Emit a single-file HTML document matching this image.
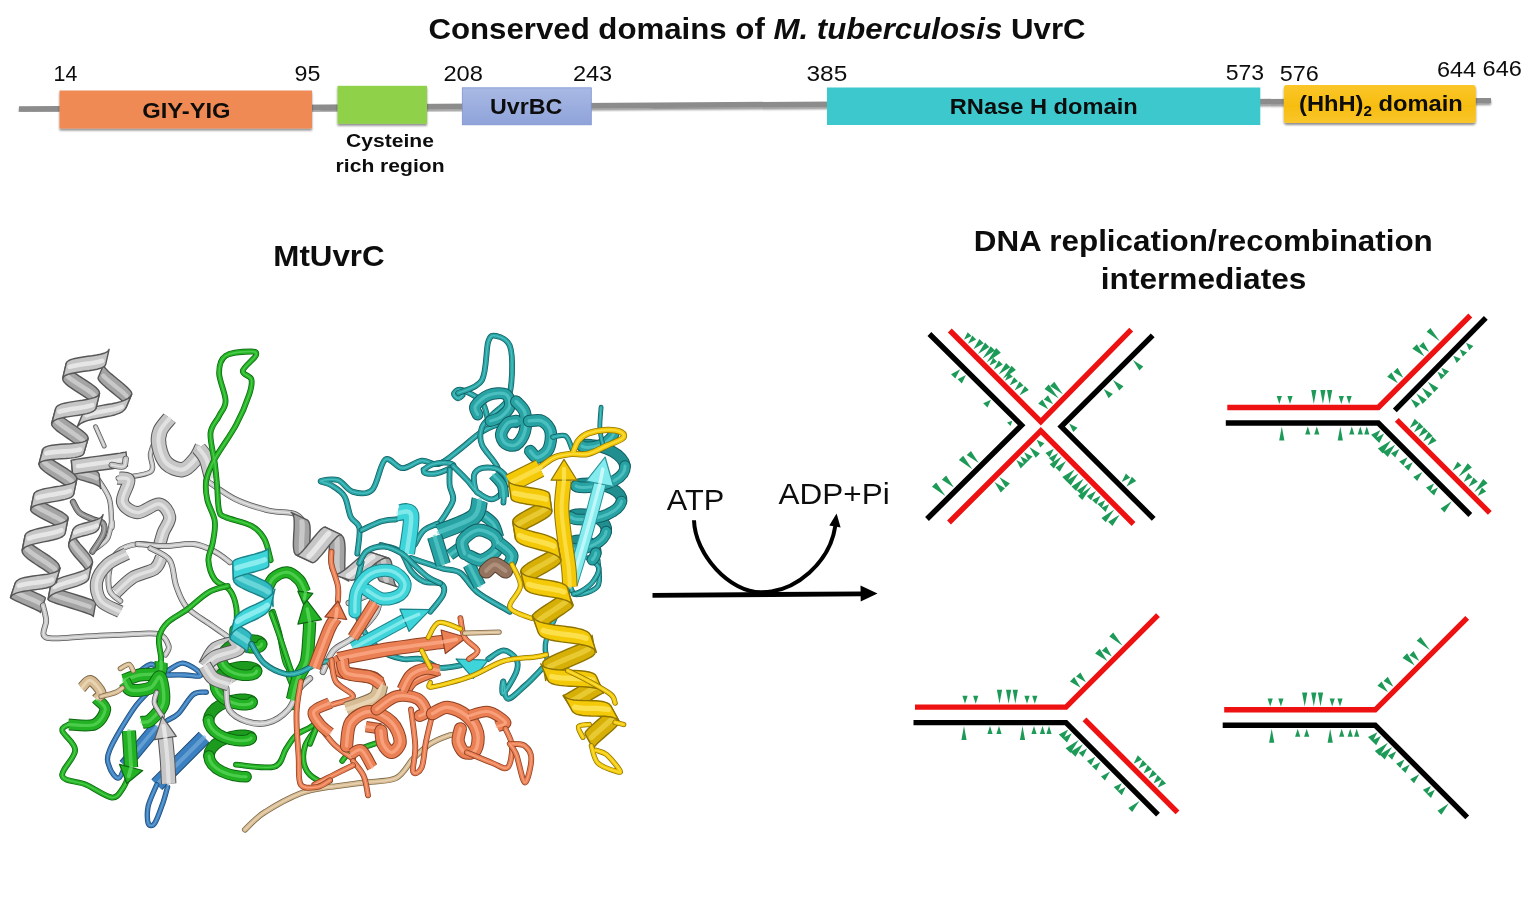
<!DOCTYPE html>
<html><head><meta charset="utf-8"><title>MtUvrC graphical abstract</title>
<style>
html,body{margin:0;padding:0;background:#fff;}
body{width:1536px;height:918px;overflow:hidden;font-family:"Liberation Sans",sans-serif;}
svg{display:block;}
</style></head><body>
<svg width="1536" height="918" viewBox="0 0 1536 918">
<rect width="1536" height="918" fill="#fff"/>
<defs><filter id="sh" x="-5%" y="-20%" width="110%" height="150%"><feGaussianBlur in="SourceAlpha" stdDeviation="1.2"/><feOffset dy="1.5" result="o"/><feComponentTransfer><feFuncA type="linear" slope="0.45"/></feComponentTransfer><feMerge><feMergeNode/><feMergeNode in="SourceGraphic"/></feMerge></filter><linearGradient id="gy" x1="0" y1="0" x2="0" y2="1"><stop offset="0" stop-color="#fbc62a"/><stop offset="0.55" stop-color="#f7bd10"/><stop offset="1" stop-color="#f9c62c"/></linearGradient><linearGradient id="gb" x1="0" y1="0" x2="0" y2="1"><stop offset="0" stop-color="#a9b9e4"/><stop offset="1" stop-color="#8fa3da"/></linearGradient></defs>
<g filter="url(#sh)"><path d="M19 109 L1491 100.3" stroke="#8c8c8c" stroke-width="5.5" fill="none"/></g>
<rect x="59.5" y="90.5" width="252.5" height="38" fill="#f08a55" filter="url(#sh)"/>
<rect x="337.5" y="85.8" width="89.5" height="38" fill="#8fd14a" filter="url(#sh)"/>
<rect x="462.3" y="87.8" width="129" height="37" fill="url(#gb)" stroke="#7f93cf" stroke-width="0.8"/>
<rect x="827" y="87.5" width="433.3" height="37.5" fill="#3cc8cc"/>
<rect x="1283.8" y="85" width="192" height="38" rx="3" fill="url(#gy)" filter="url(#sh)"/>
<g font-family="'Liberation Sans', sans-serif" fill="#0d0d0d" opacity="0.999"><text transform="translate(428.4 39) scale(1.0337 1)" font-size="30.2" xml:space="preserve"><tspan font-weight="bold">Conserved&#160;domains&#160;of&#160;</tspan><tspan font-weight="bold" font-style="italic">M. tuberculosis</tspan><tspan font-weight="bold">&#160;UvrC</tspan></text><text transform="translate(53.6 81) scale(0.9466 1)" font-size="22.6" xml:space="preserve"><tspan>14</tspan></text><text transform="translate(294.5 81) scale(1.0274 1)" font-size="22.6" xml:space="preserve"><tspan>95</tspan></text><text transform="translate(443.4 81.3) scale(1.0479 1)" font-size="22.6" xml:space="preserve"><tspan>208</tspan></text><text transform="translate(572.9 81.3) scale(1.0423 1)" font-size="22.6" xml:space="preserve"><tspan>243</tspan></text><text transform="translate(806.5 81.2) scale(1.0804 1)" font-size="22.6" xml:space="preserve"><tspan>385</tspan></text><text transform="translate(1225.7 80.3) scale(1.0190 1)" font-size="22.6" xml:space="preserve"><tspan>573</tspan></text><text transform="translate(1279.8 81) scale(1.0357 1)" font-size="22.6" xml:space="preserve"><tspan>576</tspan></text><text transform="translate(1436.9 77.2) scale(1.0385 1)" font-size="22.6" xml:space="preserve"><tspan>644</tspan></text><text transform="translate(1482.6 75.6) scale(1.0423 1)" font-size="22.6" xml:space="preserve"><tspan>646</tspan></text><text transform="translate(142.2 117.6) scale(1.1037 1)" font-size="21.5" xml:space="preserve"><tspan font-weight="bold">GIY-YIG</tspan></text><text transform="translate(490 113.7) scale(1.0563 1)" font-size="22" xml:space="preserve"><tspan font-weight="bold">UvrBC</tspan></text><text transform="translate(949.8 113.7) scale(1.0753 1)" font-size="22" xml:space="preserve"><tspan font-weight="bold">RNase H domain</tspan></text><text transform="translate(1299 111.1) scale(1.0782 1)" font-size="22" xml:space="preserve"><tspan font-weight="bold">(HhH)</tspan><tspan font-weight="bold" font-size="14.1" dy="5">2</tspan><tspan font-weight="bold" dy="-5">&#160;domain</tspan></text><text transform="translate(346 146.9) scale(1.1530 1)" font-size="18.3" xml:space="preserve"><tspan font-weight="bold">Cysteine</tspan></text><text transform="translate(335.6 171.9) scale(1.1525 1)" font-size="18.3" xml:space="preserve"><tspan font-weight="bold">rich region</tspan></text><text transform="translate(273.3 266) scale(1.0447 1)" font-size="30" xml:space="preserve"><tspan font-weight="bold">MtUvrC</tspan></text><text transform="translate(973.8 251.4) scale(1.0821 1)" font-size="29" xml:space="preserve"><tspan font-weight="bold">DNA replication/recombination</tspan></text><text transform="translate(1100.8 288.7) scale(1.0901 1)" font-size="29" xml:space="preserve"><tspan font-weight="bold">intermediates</tspan></text><text transform="translate(666.8 509.7) scale(1.0325 1)" font-size="29.8" xml:space="preserve"><tspan>ATP</tspan></text><text transform="translate(778.6 504.3) scale(1.0422 1)" font-size="30.2" xml:space="preserve"><tspan>ADP+Pi</tspan></text></g>
<path d="M652.5 595.4 L862 593.8" stroke="#000" stroke-width="4.8" fill="none"/>
<path d="M860.5 585.6 L877.5 593.6 L860.7 601.6Z" fill="#000"/>
<path d="M694 520.2 C695 555 730 592.3 761 592.3 C796 592.3 830 562 835.3 526" stroke="#000" stroke-width="4" fill="none"/>
<path d="M829.3 525.5 L836.6 513.5 L840.6 527.5Z" fill="#000"/>
<path d="M929.4 334 L1021.6 425.2 L927 519" fill="none" stroke="#000" stroke-width="5.4" stroke-linejoin="miter" stroke-linecap="butt"/><path d="M1152.7 335.4 L1061.2 426.6 L1153.7 518.8" fill="none" stroke="#000" stroke-width="5.4" stroke-linejoin="miter" stroke-linecap="butt"/><path d="M949.8 330.5 L1040.8 421.7 L1131.2 329.6" fill="none" stroke="#ee1111" stroke-width="5.4" stroke-linejoin="miter" stroke-linecap="butt"/><path d="M949 522.5 L1040.8 430.8 L1133.5 524" fill="none" stroke="#ee1111" stroke-width="5.4" stroke-linejoin="miter" stroke-linecap="butt"/>
<path d="M963.9 339.8L971.5 336.1L967.7 332.3ZM967.9 343.8L976.2 339.4L972.3 335.5ZM973.4 349.3L983.7 343.3L979.4 339.1ZM978 353.9L989.3 346.9L985.1 342.6ZM982.6 358.5L995 350.4L990.7 346.2ZM986.5 362.4L1000.8 352.7L996.2 348.1ZM989.4 365.4L997 361.7L993.2 357.8ZM993.7 369.7L1002.7 364.5L998.8 360.6ZM998.6 374.6L1010.3 367.2L1006.1 362.9ZM1002.8 378.8L1015.9 370L1011.6 365.7ZM1004.8 380.8L1012.8 376.8L1008.9 372.9ZM1009.6 385.6L1017.9 381.2L1014.1 377.3ZM1014.5 390.5L1023.5 385.4L1019.6 381.5ZM1019.4 395.5L1028.8 390L1024.9 386.1ZM960.2 369.3L955.3 378.5L951 374.3ZM966 375L961.8 383.5L957.6 379.3ZM991 399.7L987.5 407.5L983.2 403.3ZM1012.3 420.8L1010.6 426.1L1007 422.6ZM1048.2 409.3L1042.4 399.5L1038.2 403.8ZM1053.1 404.3L1048 395.2L1043.8 399.5ZM1058.7 398.6L1048.7 384.6L1044.5 388.9ZM1062.9 394.3L1054.3 381.7L1050.1 386ZM1069.1 423.6L1077.5 427.8L1073.3 432.1ZM1103.7 389.1L1112.9 394L1108.6 398.3ZM1112.9 379.9L1123.5 386.3L1119.2 390.5ZM1132.9 360L1143.3 366.5L1139.4 370.4ZM978.7 462.9L966.7 455.1L971 450.9ZM972.3 469.3L958.9 460L963.2 455.8ZM953.9 487.6L941.9 479.7L946.1 475.5ZM945.4 496L932 486.8L936.2 482.5ZM1036.6 439.8L1040.2 447.6L1044.4 443.3ZM1029.3 447.1L1035.7 457.7L1039.9 453.4ZM1024.1 452.3L1028.3 460.8L1032.6 456.5ZM1020.2 456.2L1024.4 464.7L1028.7 460.4ZM1016.3 460.1L1020.6 468.5L1024.8 464.3ZM999.3 477L1005.7 487.6L1009.9 483.4ZM994.4 482L1000.7 492.6L1005 488.3ZM1053.9 448.8L1049.6 457.3L1045.4 453ZM1058.1 453L1053.2 462.2L1048.9 458ZM1061.7 456.6L1053.9 468.6L1049.6 464.3ZM1066.1 461.1L1059.7 471.7L1055.5 467.4ZM1074.6 469.6L1066.9 481.7L1062.3 477.1ZM1078.4 473.5L1070.8 485.6L1066.2 481ZM1083.7 478.8L1076.1 491L1071.5 486.4ZM1088.2 483.3L1081.1 494.6L1076.9 490.4ZM1091.5 486.6L1082.3 500L1078 495.7ZM1096 491.1L1091 500.3L1086.8 496ZM1100.6 495.7L1096.3 504.2L1092.1 500ZM1105.2 500.3L1101.6 508.1L1097.4 503.9ZM1109.1 504.3L1105.6 512.1L1101.3 507.8ZM1114.3 509.5L1105.7 522.2L1101.5 517.9ZM1119.6 514.8L1112.5 526.1L1108.2 521.8ZM1121.7 482.1L1130.2 477.8L1125.9 473.6ZM1126.3 486.7L1136.2 481L1131.9 476.8Z" fill="#1e9a58"/>
<path d="M1227.3 407.5 L1378.3 407.5 L1470.3 315.5" fill="none" stroke="#ee1111" stroke-width="5.4" stroke-linejoin="miter" stroke-linecap="butt"/><path d="M1225.8 423 L1378.3 423 L1470.3 515" fill="none" stroke="#000" stroke-width="5.4" stroke-linejoin="miter" stroke-linecap="butt"/><path d="M1396.8 419.8 L1489.8 512.8" fill="none" stroke="#ee1111" stroke-width="5.4" stroke-linejoin="miter" stroke-linecap="butt"/><path d="M1394.8 410.3 L1485.8 317.8" fill="none" stroke="#000" stroke-width="5.4" stroke-linejoin="miter" stroke-linecap="butt"/>
<path d="M1279.3 404.1L1281.9 396.1L1276.7 396.1ZM1290 404.1L1292.6 396.1L1287.4 396.1ZM1313.8 404.1L1316.4 390.1L1311.2 390.1ZM1322.9 404.1L1325.5 390.1L1320.3 390.1ZM1329.6 404.1L1332.2 390.1L1327 390.1ZM1341.3 404.1L1343.9 396.1L1338.7 396.1ZM1349.1 404.1L1351.7 396.1L1346.5 396.1ZM1281.8 426.4L1284.4 440.4L1279.2 440.4ZM1307.8 426.4L1310.4 434.4L1305.2 434.4ZM1316.8 426.4L1319.4 434.4L1314.2 434.4ZM1340.3 426.4L1342.9 440.4L1337.7 440.4ZM1351.8 426.4L1354.4 434.4L1349.2 434.4ZM1360.3 426.4L1362.9 434.4L1357.7 434.4ZM1366.8 426.4L1369.4 434.4L1364.2 434.4ZM1397.8 383.2L1391.5 372.6L1387.2 376.8ZM1403.3 377.7L1397.6 367.8L1393.4 372.1ZM1424.5 356.4L1416.9 344.2L1412.3 348.8ZM1429.1 351.9L1423.4 342L1419.2 346.3ZM1439.8 341.2L1430.4 327.9L1426.6 331.8ZM1380.5 430L1375.7 439.4L1371.1 434.8ZM1384.1 433.6L1379.3 443L1374.7 438.4ZM1391 440.5L1382.8 453.5L1377.9 448.6ZM1395.2 444.7L1387.8 457.1L1382.8 452.1ZM1399.4 449L1395.2 457.4L1391 453.2ZM1407.6 457.2L1403.4 465.6L1399.2 461.4ZM1412.8 462.3L1408.6 470.8L1404.3 466.6ZM1422.4 471.9L1417.2 480.9L1413.3 477ZM1434.1 483.6L1430.2 491.7L1426 487.5ZM1438 487.5L1434.1 495.6L1429.8 491.4ZM1451.8 501.3L1444.5 512.4L1440.6 508.5ZM1410.8 398.9L1420.1 403.7L1415.9 408ZM1416.2 393.4L1426.8 399.7L1422.6 404ZM1421.8 387.7L1432.4 394L1428.2 398.3ZM1427.7 381.7L1438.4 388L1434.2 392.2ZM1437.4 371.8L1445.2 375.3L1441 379.6ZM1441.3 367.8L1449.1 371.3L1444.9 375.6ZM1453.3 355.7L1460.8 358.8L1456.6 363.1ZM1459.6 349.2L1467.1 352.4L1462.9 356.6ZM1466 342.8L1473.4 345.9L1469.2 350.2ZM1409.7 427.9L1418.9 423L1414.7 418.7ZM1414 432.2L1423.5 426.9L1419.3 422.6ZM1418.6 436.8L1428.1 431.5L1423.9 427.2ZM1423.2 441.4L1432.7 436.1L1428.5 431.8ZM1427.4 445.6L1436.6 440.7L1432.4 436.4ZM1452.5 470.7L1461.5 465.6L1457.6 461.7ZM1458.5 476.7L1471.9 467.5L1467.7 463.2ZM1463.7 481.9L1472.5 477.3L1468.3 473ZM1468.6 486.8L1477.8 481.8L1473.5 477.6ZM1474.2 492.3L1487.6 483.2L1483.3 478.9ZM1477.7 495.9L1486.2 491.6L1481.9 487.4Z" fill="#1e9a58"/>
<path d="M915 707.1 L1066 707.1 L1158 615.1" fill="none" stroke="#ee1111" stroke-width="5.4" stroke-linejoin="miter" stroke-linecap="butt"/><path d="M913.5 722.6 L1066 722.6 L1158 814.6" fill="none" stroke="#000" stroke-width="5.4" stroke-linejoin="miter" stroke-linecap="butt"/><path d="M1084.5 719.4 L1177.5 812.4" fill="none" stroke="#ee1111" stroke-width="5.4" stroke-linejoin="miter" stroke-linecap="butt"/>
<path d="M965 703.7L967.6 695.7L962.4 695.7ZM975.7 703.7L978.3 695.7L973.1 695.7ZM999.5 703.7L1002.1 689.7L996.9 689.7ZM1008.6 703.7L1011.2 689.7L1006 689.7ZM1015.3 703.7L1017.9 689.7L1012.7 689.7ZM1027 703.7L1029.6 695.7L1024.4 695.7ZM1034.8 703.7L1037.4 695.7L1032.2 695.7ZM964 726L966.6 740L961.4 740ZM990 726L992.6 734L987.4 734ZM999 726L1001.6 734L996.4 734ZM1022.5 726L1025.1 740L1019.9 740ZM1034 726L1036.6 734L1031.4 734ZM1042.5 726L1045.1 734L1039.9 734ZM1049 726L1051.6 734L1046.4 734ZM1080.6 687.7L1074.2 677.1L1070 681.4ZM1086 682.3L1080.4 672.4L1076.1 676.6ZM1107.3 661L1099.7 648.8L1095.1 653.4ZM1111.8 656.5L1106.2 646.6L1101.9 650.8ZM1122.6 645.7L1113.2 632.5L1109.3 636.4ZM1068.2 729.6L1063.4 739L1058.8 734.4ZM1071.8 733.2L1067 742.6L1062.4 738ZM1078.7 740.1L1070.5 753.1L1065.6 748.2ZM1082.9 744.3L1075.5 756.7L1070.5 751.7ZM1087.1 748.6L1082.9 757L1078.7 752.8ZM1095.3 756.8L1091.1 765.2L1086.9 761ZM1100.5 761.9L1096.3 770.4L1092 766.2ZM1110.1 771.5L1104.9 780.5L1101 776.6ZM1121.8 783.2L1117.9 791.3L1113.7 787.1ZM1125.7 787.1L1121.8 795.2L1117.5 791ZM1139.5 800.9L1132.2 812L1128.3 808.1ZM1133.6 763.7L1142.1 759.4L1137.8 755.2ZM1138.5 768.6L1147 764.4L1142.8 760.1ZM1143.5 773.6L1152 769.3L1147.7 765.1ZM1148.4 778.5L1156.9 774.3L1152.7 770ZM1153.4 783.5L1161.9 779.2L1157.6 775ZM1157.6 787.7L1166.1 783.5L1161.9 779.2Z" fill="#1e9a58"/>
<path d="M1224.2 709.8 L1375.2 709.8 L1467.2 617.8" fill="none" stroke="#ee1111" stroke-width="5.4" stroke-linejoin="miter" stroke-linecap="butt"/><path d="M1222.7 725.3 L1375.2 725.3 L1467.2 817.3" fill="none" stroke="#000" stroke-width="5.4" stroke-linejoin="miter" stroke-linecap="butt"/>
<path d="M1270.2 706.4L1272.8 698.4L1267.6 698.4ZM1280.9 706.4L1283.5 698.4L1278.3 698.4ZM1304.7 706.4L1307.3 692.4L1302.1 692.4ZM1313.8 706.4L1316.4 692.4L1311.2 692.4ZM1320.5 706.4L1323.1 692.4L1317.9 692.4ZM1332.2 706.4L1334.8 698.4L1329.6 698.4ZM1340 706.4L1342.6 698.4L1337.4 698.4ZM1271.7 728.7L1274.3 742.7L1269.1 742.7ZM1297.7 728.7L1300.3 736.7L1295.1 736.7ZM1306.7 728.7L1309.3 736.7L1304.1 736.7ZM1330.2 728.7L1332.8 742.7L1327.6 742.7ZM1341.7 728.7L1344.3 736.7L1339.1 736.7ZM1350.2 728.7L1352.8 736.7L1347.6 736.7ZM1356.7 728.7L1359.3 736.7L1354.1 736.7ZM1388 692.2L1381.6 681.6L1377.4 685.8ZM1393.4 686.7L1387.8 676.8L1383.5 681.1ZM1414.7 665.5L1407.1 653.3L1402.5 657.9ZM1419.3 660.9L1413.6 651L1409.4 655.3ZM1430 650.2L1420.6 636.9L1416.7 640.8ZM1377.4 732.3L1372.6 741.7L1368 737.1ZM1381 735.9L1376.2 745.3L1371.6 740.7ZM1387.9 742.8L1379.7 755.8L1374.8 750.9ZM1392.1 747L1384.7 759.4L1379.7 754.4ZM1396.3 751.3L1392.1 759.7L1387.9 755.5ZM1404.5 759.5L1400.3 767.9L1396.1 763.7ZM1409.7 764.6L1405.5 773.1L1401.2 768.9ZM1419.3 774.2L1414.1 783.2L1410.2 779.3ZM1431 785.9L1427.1 794L1422.9 789.8ZM1434.9 789.8L1431 797.9L1426.7 793.7ZM1448.7 803.6L1441.4 814.7L1437.5 810.8Z" fill="#1e9a58"/>
<g fill="none" stroke-linejoin="round">
<path d="M95.6 426.7L104.2 446" stroke="#565656" stroke-width="4.8" stroke-linecap="round"/>
<path d="M95.6 426.7L104.2 446" stroke="#c6c6c6" stroke-width="3.3" stroke-linecap="round"/>
<path d="M95.6 426.7L104.2 446" stroke="#f4f4f4" stroke-width="1.1" stroke-linecap="round" stroke-opacity="0.6"/>
<path d="M98.8 480.4C100.6 483.6 107.4 492 109.6 499.7C111.7 507.5 111.4 523.4 111.7 527C112.1 530.6 112.4 519.5 111.7 521.5C111 523.4 110.3 534 107.4 538.7C104.6 543.3 96.7 547.6 94.5 549.4" stroke="#565656" stroke-width="5.3" stroke-linecap="round"/>
<path d="M98.8 480.4C100.6 483.6 107.4 492 109.6 499.7C111.7 507.5 111.4 523.4 111.7 527C112.1 530.6 112.4 519.5 111.7 521.5C111 523.4 110.3 534 107.4 538.7C104.6 543.3 96.7 547.6 94.5 549.4" stroke="#c6c6c6" stroke-width="3.8" stroke-linecap="round"/>
<path d="M98.8 480.4C100.6 483.6 107.4 492 109.6 499.7C111.7 507.5 111.4 523.4 111.7 527C112.1 530.6 112.4 519.5 111.7 521.5C111 523.4 110.3 534 107.4 538.7C104.6 543.3 96.7 547.6 94.5 549.4" stroke="#f4f4f4" stroke-width="1.2" stroke-linecap="round" stroke-opacity="0.6"/>
<path d="M73 501.9C74.1 503.7 76.3 509.8 79.5 512.6C82.7 515.5 88.4 517.3 92.4 519.1C96.3 520.9 101.3 520.8 103.1 523.4C104.9 525.9 104.9 529.7 103.1 534.4C101.3 539.1 94.2 548.7 92.4 551.6" stroke="#444444" stroke-width="6.3" stroke-linecap="round"/>
<path d="M73 501.9C74.1 503.7 76.3 509.8 79.5 512.6C82.7 515.5 88.4 517.3 92.4 519.1C96.3 520.9 101.3 520.8 103.1 523.4C104.9 525.9 104.9 529.7 103.1 534.4C101.3 539.1 94.2 548.7 92.4 551.6" stroke="#8e8e8e" stroke-width="4.8" stroke-linecap="round"/>
<path d="M73 501.9C74.1 503.7 76.3 509.8 79.5 512.6C82.7 515.5 88.4 517.3 92.4 519.1C96.3 520.9 101.3 520.8 103.1 523.4C104.9 525.9 104.9 529.7 103.1 534.4C101.3 539.1 94.2 548.7 92.4 551.6" stroke="#c4c4c4" stroke-width="1.5" stroke-linecap="round" stroke-opacity="0.6"/>
<path d="M154.7 441.7C154 443.9 151.1 449.6 150.4 454.6C149.7 459.6 155.8 467.9 150.4 471.8C145 475.7 123.5 477.2 118.2 478.2" stroke="#565656" stroke-width="5.3" stroke-linecap="round"/>
<path d="M154.7 441.7C154 443.9 151.1 449.6 150.4 454.6C149.7 459.6 155.8 467.9 150.4 471.8C145 475.7 123.5 477.2 118.2 478.2" stroke="#c6c6c6" stroke-width="3.8" stroke-linecap="round"/>
<path d="M154.7 441.7C154 443.9 151.1 449.6 150.4 454.6C149.7 459.6 155.8 467.9 150.4 471.8C145 475.7 123.5 477.2 118.2 478.2" stroke="#f4f4f4" stroke-width="1.2" stroke-linecap="round" stroke-opacity="0.6"/>
<path d="M98.2 377.4L98.1 378.7L98.9 380.3L100.5 382.3L102.8 384.6L105.6 387.1L108.8 389.7L112.1 392.4L115.5 395.2L118.7 397.8L121.5 400.3L123.8 402.6L125.3 404.6L126.1 406.2L126.1 407.5L131.7 394.3L131.7 393L130.9 391.4L129.3 389.4L127.1 387.2L124.3 384.7L121.1 382L117.7 379.3L114.4 376.5L111.2 373.9L108.4 371.4L106.1 369.1L104.5 367.2L103.7 365.5L103.8 364.2Z" fill="#a4a4a4" stroke="#565656" stroke-width="1.4"/>
<path d="M103.3 375.7L105.6 378L108.4 380.5L111.6 383.1L114.9 385.9L118.3 388.6L121.5 391.2L124.3 393.7L126.6 396" stroke="#f4f4f4" stroke-width="4.3" stroke-linecap="round" stroke-opacity="0.45"/>
<path d="M126.1 407.5L124.6 409.8L122.3 411.8L119.1 413.4L115.4 414.7L111 415.9L106.3 416.8L101.4 417.7L96.5 418.6L91.8 419.5L87.5 420.6L83.7 422L80.5 423.6L78.2 425.6L76.7 427.9L82.3 414.7L83.8 412.4L86.1 410.4L89.3 408.8L93.1 407.5L97.4 406.4L102.1 405.4L107 404.5L111.9 403.7L116.6 402.7L120.9 401.6L124.7 400.2L127.9 398.6L130.2 396.6L131.7 394.3Z" fill="#c6c6c6" stroke="#565656" stroke-width="1.4"/>
<path d="M121.9 406.8L118.1 408.2L113.8 409.3L109.1 410.2L104.2 411.1L99.3 412L94.6 412.9L90.3 414L86.5 415.4" stroke="#f4f4f4" stroke-width="4.3" stroke-linecap="round" stroke-opacity="0.7"/>
<path d="M72.7 474.6L73.1 475.8L74.2 476.9L75.9 477.9L78.1 478.9L80.7 479.8L83.6 480.7L86.6 481.6L89.7 482.5L92.6 483.4L95.2 484.3L97.4 485.3L99.1 486.3L100.2 487.4L100.6 488.6L99.2 474.4L98.7 473.2L97.7 472.1L96 471.1L93.8 470.1L91.2 469.2L88.3 468.3L85.2 467.4L82.2 466.5L79.3 465.6L76.7 464.6L74.5 463.7L72.8 462.6L71.7 461.5L71.3 460.4Z" fill="#a4a4a4" stroke="#565656" stroke-width="1.4"/>
<path d="M75.2 470.8L77.4 471.7L80 472.7L82.9 473.6L85.9 474.5L89 475.4L91.9 476.3L94.5 477.2L96.7 478.2" stroke="#f4f4f4" stroke-width="4.3" stroke-linecap="round" stroke-opacity="0.45"/>
<path d="M127.5 466L126.8 466.3L124.8 466.7L121.5 467.3L117.2 467.9L112 468.7L106.2 469.5L100.1 470.3L94 471.2L88.2 472L83 472.7L78.6 473.4L75.4 473.9L73.4 474.3L72.7 474.6L71.3 460.4L71.9 460.1L73.9 459.7L77.2 459.1L81.5 458.5L86.7 457.7L92.5 456.9L98.7 456.1L104.8 455.3L110.6 454.5L115.8 453.7L120.1 453.1L123.4 452.5L125.4 452.1L126 451.8Z" fill="#c6c6c6" stroke="#565656" stroke-width="1.4"/>
<path d="M120.8 460.2L116.5 460.8L111.3 461.6L105.5 462.4L99.4 463.2L93.3 464L87.5 464.8L82.3 465.6L77.9 466.2" stroke="#f4f4f4" stroke-width="4.3" stroke-linecap="round" stroke-opacity="0.7"/>
<path d="M125.7 458.9C125.3 460.2 125.9 465.4 123.5 466.4C121.2 467.4 113.7 465.2 111.7 464.9" stroke="#565656" stroke-width="6.3" stroke-linecap="round"/>
<path d="M125.7 458.9C125.3 460.2 125.9 465.4 123.5 466.4C121.2 467.4 113.7 465.2 111.7 464.9" stroke="#c6c6c6" stroke-width="4.8" stroke-linecap="round"/>
<path d="M125.7 458.9C125.3 460.2 125.9 465.4 123.5 466.4C121.2 467.4 113.7 465.2 111.7 464.9" stroke="#f4f4f4" stroke-width="1.5" stroke-linecap="round" stroke-opacity="0.6"/>
<path d="M68.8 543.4L68.6 545.3L69 547.5L70.1 549.8L71.7 552.4L73.7 555L76 557.8L78.5 560.5L80.9 563.3L83.3 566.1L85.3 568.7L86.9 571.2L87.9 573.6L88.4 575.8L88.1 577.7L92.3 564.1L92.6 562.1L92.1 559.9L91.1 557.6L89.5 555.1L87.4 552.4L85.1 549.7L82.7 546.9L80.2 544.1L77.9 541.3L75.9 538.7L74.3 536.2L73.2 533.8L72.8 531.7L73 529.7Z" fill="#a4a4a4" stroke="#565656" stroke-width="1.4"/>
<path d="M72.2 543L73.8 545.5L75.8 548.2L78.1 550.9L80.6 553.7L83 556.5L85.4 559.2L87.4 561.9L89 564.4" stroke="#f4f4f4" stroke-width="4.3" stroke-linecap="round" stroke-opacity="0.45"/>
<path d="M48.1 599.4L48.6 600.1L50.2 601.1L52.9 602.2L56.5 603.5L60.8 604.9L65.6 606.4L70.7 608L75.8 609.6L80.6 611.1L84.9 612.5L88.5 613.8L91.2 614.9L92.8 615.9L93.3 616.6L95.8 602.5L95.3 601.8L93.7 600.9L91.1 599.7L87.5 598.5L83.2 597L78.3 595.5L73.3 593.9L68.2 592.4L63.3 590.9L59 589.4L55.4 588.1L52.8 587L51.2 586.1L50.7 585.3Z" fill="#a4a4a4" stroke="#565656" stroke-width="1.4"/>
<path d="M54.2 595.2L57.8 596.5L62.1 597.9L66.9 599.4L72 601L77.1 602.5L81.9 604.1L86.2 605.5L89.8 606.8" stroke="#f4f4f4" stroke-width="4.3" stroke-linecap="round" stroke-opacity="0.45"/>
<path d="M98.9 528.3L98.1 529.8L96.8 531.1L94.9 532.3L92.6 533.3L89.9 534.2L86.9 535.1L83.8 535.8L80.8 536.6L77.8 537.5L75.1 538.4L72.8 539.4L70.9 540.5L69.6 541.9L68.8 543.4L73 529.7L73.8 528.2L75.1 526.9L77 525.7L79.3 524.7L82 523.8L85 523L88 522.2L91.1 521.4L94.1 520.5L96.7 519.6L99.1 518.6L100.9 517.5L102.3 516.1L103.1 514.6Z" fill="#c6c6c6" stroke="#565656" stroke-width="1.4"/>
<path d="M97 525.5L94.7 526.5L92 527.4L89 528.2L85.9 529L82.9 529.8L79.9 530.6L77.2 531.5L74.9 532.6" stroke="#f4f4f4" stroke-width="4.3" stroke-linecap="round" stroke-opacity="0.7"/>
<path d="M89 577.9L88.1 579.9L86.5 581.6L84 583.2L80.8 584.7L77 586.1L72.9 587.4L68.5 588.7L64.2 590L60.1 591.3L56.3 592.6L53.1 594.1L50.6 595.7L48.9 597.5L48.1 599.4L50.7 585.3L51.5 583.4L53.2 581.7L55.7 580.1L58.9 578.6L62.6 577.2L66.8 575.9L71.1 574.6L75.4 573.3L79.6 572L83.3 570.6L86.5 569.2L89 567.5L90.7 565.8L91.5 563.9Z" fill="#c6c6c6" stroke="#565656" stroke-width="1.4"/>
<path d="M85.2 576.2L82.1 577.7L78.3 579.1L74.2 580.4L69.8 581.6L65.5 582.9L61.3 584.2L57.6 585.6L54.4 587.1" stroke="#f4f4f4" stroke-width="4.3" stroke-linecap="round" stroke-opacity="0.7"/>
<path d="M62.7 378.3L62.9 380L63.9 381.8L65.9 383.9L68.5 386.1L71.8 388.4L75.5 390.9L79.4 393.4L83.3 395.9L87 398.3L90.2 400.7L92.9 402.9L94.8 404.9L95.9 406.8L96 408.4L99.5 393.4L99.3 391.8L98.3 389.9L96.4 387.9L93.7 385.7L90.4 383.3L86.7 380.9L82.8 378.4L78.9 375.9L75.2 373.4L72 371.1L69.3 368.8L67.4 366.8L66.3 364.9L66.2 363.3Z" fill="#a4a4a4" stroke="#565656" stroke-width="1.4"/>
<path d="M67.6 376.3L70.2 378.6L73.5 380.9L77.2 383.4L81.1 385.9L85 388.4L88.7 390.8L92 393.2L94.6 395.4" stroke="#f4f4f4" stroke-width="4.6" stroke-linecap="round" stroke-opacity="0.45"/>
<path d="M51.6 423.3L51.7 424.8L52.7 426.6L54.5 428.6L57.1 430.9L60.3 433.3L63.9 435.8L67.7 438.4L71.5 441L75.1 443.5L78.3 445.9L80.9 448.1L82.7 450.1L83.7 451.9L83.8 453.4L88.1 438.6L88 437.1L87 435.3L85.1 433.3L82.5 431.1L79.4 428.7L75.8 426.2L72 423.6L68.1 421L64.6 418.5L61.4 416.1L58.8 413.8L56.9 411.8L55.9 410L55.8 408.5Z" fill="#a4a4a4" stroke="#565656" stroke-width="1.4"/>
<path d="M56.6 421.2L59.2 423.5L62.4 425.9L66 428.4L69.8 431L73.6 433.6L77.2 436.1L80.4 438.5L83 440.7" stroke="#f4f4f4" stroke-width="4.6" stroke-linecap="round" stroke-opacity="0.45"/>
<path d="M39.1 464.3L39.3 465.9L40.4 467.7L42.4 469.8L45.1 472L48.5 474.4L52.3 476.8L56.3 479.3L60.3 481.8L64.1 484.3L67.5 486.6L70.3 488.8L72.3 490.9L73.4 492.7L73.5 494.3L76.9 479.3L76.7 477.7L75.6 475.9L73.6 473.8L70.9 471.6L67.5 469.2L63.7 466.8L59.7 464.3L55.7 461.8L51.9 459.3L48.5 457L45.8 454.8L43.8 452.7L42.7 450.9L42.5 449.2Z" fill="#a4a4a4" stroke="#565656" stroke-width="1.4"/>
<path d="M44.1 462.3L46.8 464.5L50.2 466.8L54 469.3L58 471.8L62 474.3L65.8 476.7L69.2 479.1L71.9 481.3" stroke="#f4f4f4" stroke-width="4.6" stroke-linecap="round" stroke-opacity="0.45"/>
<path d="M30.6 509.4L30.8 510.6L32 512.1L34 513.7L36.8 515.4L40.1 517.3L43.8 519.3L47.8 521.4L51.8 523.4L55.5 525.4L58.8 527.3L61.6 529L63.6 530.7L64.8 532.1L65 533.3L68.2 518.3L68 517L66.8 515.6L64.8 514L62.1 512.2L58.7 510.3L55 508.3L51 506.3L47.1 504.3L43.3 502.3L40 500.4L37.2 498.6L35.2 497L34.1 495.6L33.8 494.3Z" fill="#a4a4a4" stroke="#565656" stroke-width="1.4"/>
<path d="M35.6 506.1L38.4 507.9L41.7 509.8L45.5 511.8L49.4 513.8L53.4 515.9L57.1 517.8L60.5 519.7L63.2 521.5" stroke="#f4f4f4" stroke-width="4.6" stroke-linecap="round" stroke-opacity="0.45"/>
<path d="M22.1 550.5L22.3 552.4L23.4 554.4L25.4 556.6L28.1 559L31.5 561.4L35.3 564L39.3 566.6L43.3 569.2L47.1 571.8L50.5 574.3L53.3 576.7L55.3 578.9L56.4 580.9L56.5 582.7L59.5 567.6L59.4 565.8L58.3 563.8L56.3 561.6L53.5 559.2L50.1 556.7L46.3 554.1L42.3 551.5L38.3 548.9L34.5 546.3L31.1 543.9L28.4 541.5L26.4 539.3L25.3 537.3L25.1 535.4Z" fill="#a4a4a4" stroke="#565656" stroke-width="1.4"/>
<path d="M26.9 549L29.6 551.4L33 553.9L36.8 556.5L40.8 559.1L44.8 561.7L48.6 564.3L52 566.8L54.8 569.1" stroke="#f4f4f4" stroke-width="4.6" stroke-linecap="round" stroke-opacity="0.45"/>
<path d="M10.5 597.5L10.7 598L11.8 598.7L13.6 599.7L16 600.8L18.9 602.1L22.1 603.6L25.5 605.1L28.9 606.6L32.1 608L35 609.3L37.4 610.5L39.2 611.4L40.2 612.1L40.5 612.6L45.4 598L45.1 597.5L44.1 596.8L42.3 595.9L39.9 594.7L37 593.4L33.8 591.9L30.4 590.4L27 589L23.7 587.5L20.8 586.2L18.4 585L16.7 584.1L15.6 583.4L15.3 582.9Z" fill="#a4a4a4" stroke="#565656" stroke-width="1.4"/>
<path d="M16 592.4L18.4 593.5L21.3 594.8L24.5 596.3L27.9 597.8L31.3 599.2L34.6 600.7L37.5 602L39.8 603.2" stroke="#f4f4f4" stroke-width="4.6" stroke-linecap="round" stroke-opacity="0.45"/>
<path d="M105.7 364.4L104.9 365.9L103.1 367.2L100.5 368.3L97.1 369.2L93.2 370L88.8 370.7L84.2 371.3L79.6 372L75.3 372.7L71.3 373.5L68 374.4L65.3 375.5L63.6 376.8L62.7 378.3L66.2 363.3L67 361.8L68.8 360.5L71.4 359.4L74.8 358.5L78.7 357.7L83.1 357L87.7 356.3L92.2 355.7L96.6 355L100.5 354.2L103.9 353.3L106.5 352.2L108.3 350.9L109.1 349.3Z" fill="#c6c6c6" stroke="#565656" stroke-width="1.4"/>
<path d="M102.2 360.8L98.8 361.7L94.9 362.5L90.5 363.2L85.9 363.8L81.4 364.5L77 365.2L73 366L69.7 366.9" stroke="#f4f4f4" stroke-width="4.6" stroke-linecap="round" stroke-opacity="0.7"/>
<path d="M95.9 408.4L95 410L93.1 411.4L90.4 412.6L87 413.6L83 414.4L78.5 415.2L73.9 415.9L69.2 416.6L64.8 417.3L60.7 418.2L57.3 419.2L54.6 420.4L52.8 421.8L51.8 423.4L55.6 408.5L56.5 406.8L58.3 405.4L61 404.2L64.5 403.2L68.5 402.4L72.9 401.6L77.6 400.9L82.3 400.3L86.7 399.5L90.7 398.6L94.2 397.6L96.9 396.5L98.7 395.1L99.6 393.4Z" fill="#c6c6c6" stroke="#565656" stroke-width="1.4"/>
<path d="M92.3 405.1L88.9 406.1L84.8 407L80.4 407.7L75.7 408.4L71.1 409.1L66.6 409.9L62.6 410.7L59.2 411.7" stroke="#f4f4f4" stroke-width="4.6" stroke-linecap="round" stroke-opacity="0.7"/>
<path d="M83.8 453.4L82.9 454.8L81 456L78.2 456.9L74.7 457.6L70.6 458.1L66 458.5L61.2 458.8L56.5 459.1L51.9 459.5L47.8 460L44.3 460.7L41.5 461.6L39.6 462.7L38.7 464.2L43 449.4L43.9 447.9L45.8 446.8L48.6 445.9L52.1 445.2L56.2 444.7L60.8 444.3L65.5 444L70.3 443.7L74.8 443.3L79 442.8L82.5 442.1L85.3 441.2L87.1 440L88.1 438.6Z" fill="#c6c6c6" stroke="#565656" stroke-width="1.4"/>
<path d="M80.3 449.5L76.8 450.2L72.7 450.7L68.1 451.1L63.4 451.4L58.6 451.7L54.1 452.1L49.9 452.6L46.4 453.3" stroke="#f4f4f4" stroke-width="4.6" stroke-linecap="round" stroke-opacity="0.7"/>
<path d="M73.7 494.4L72.8 495.9L71.1 497.3L68.5 498.4L65.1 499.4L61.1 500.3L56.8 501.1L52.2 501.9L47.6 502.7L43.2 503.5L39.2 504.4L35.9 505.4L33.2 506.5L31.5 507.9L30.7 509.4L33.8 494.3L34.6 492.8L36.3 491.5L38.9 490.3L42.3 489.3L46.3 488.4L50.7 487.6L55.3 486.8L59.8 486.1L64.2 485.2L68.2 484.4L71.6 483.3L74.2 482.2L75.9 480.8L76.7 479.3Z" fill="#c6c6c6" stroke="#565656" stroke-width="1.4"/>
<path d="M70 490.9L66.7 491.9L62.7 492.8L58.3 493.6L53.7 494.4L49.1 495.1L44.7 495.9L40.8 496.8L37.4 497.8" stroke="#f4f4f4" stroke-width="4.6" stroke-linecap="round" stroke-opacity="0.7"/>
<path d="M65.2 533.3L64.4 535L62.6 536.5L60 537.8L56.6 539L52.7 540L48.3 541L43.7 541.9L39.1 542.9L34.7 543.9L30.7 544.9L27.4 546.1L24.8 547.4L23 548.9L22.2 550.5L25.1 535.4L25.9 533.7L27.6 532.3L30.2 531L33.6 529.8L37.6 528.7L42 527.7L46.6 526.8L51.1 525.9L55.5 524.9L59.5 523.8L62.9 522.7L65.5 521.4L67.2 519.9L68 518.2Z" fill="#c6c6c6" stroke="#565656" stroke-width="1.4"/>
<path d="M61.4 530.2L58.1 531.4L54.1 532.5L49.7 533.4L45.1 534.4L40.5 535.3L36.1 536.3L32.2 537.3L28.8 538.5" stroke="#f4f4f4" stroke-width="4.6" stroke-linecap="round" stroke-opacity="0.7"/>
<path d="M55.6 582.5L54.5 584.3L52.5 585.8L49.7 587L46.2 588L42.1 588.8L37.7 589.4L33 590L28.4 590.6L23.9 591.3L19.8 592.1L16.3 593.1L13.5 594.3L11.6 595.8L10.5 597.5L15.3 582.9L16.4 581.1L18.4 579.7L21.2 578.4L24.7 577.5L28.8 576.7L33.2 576L37.9 575.4L42.5 574.8L47 574.2L51.1 573.4L54.6 572.4L57.4 571.2L59.3 569.7L60.4 567.9Z" fill="#c6c6c6" stroke="#565656" stroke-width="1.4"/>
<path d="M52.1 579.7L48.6 580.7L44.6 581.5L40.1 582.1L35.4 582.7L30.8 583.3L26.3 584L22.3 584.8L18.8 585.7" stroke="#f4f4f4" stroke-width="4.6" stroke-linecap="round" stroke-opacity="0.7"/>
<path d="M43 605.3C43.5 607.8 45.7 614.9 46.2 620.3C46.7 625.7 39.6 634.8 46.2 637.5C52.8 640.2 72.2 637 85.9 636.4C99.7 635.9 116.7 634.6 128.9 634.3C141.1 633.9 152.4 632.3 159 634.3C165.6 636.2 167.6 642.7 168.7 646.1C169.7 649.5 166 653.3 165.4 654.7" stroke="#565656" stroke-width="5.8" stroke-linecap="round"/>
<path d="M43 605.3C43.5 607.8 45.7 614.9 46.2 620.3C46.7 625.7 39.6 634.8 46.2 637.5C52.8 640.2 72.2 637 85.9 636.4C99.7 635.9 116.7 634.6 128.9 634.3C141.1 633.9 152.4 632.3 159 634.3C165.6 636.2 167.6 642.7 168.7 646.1C169.7 649.5 166 653.3 165.4 654.7" stroke="#c6c6c6" stroke-width="4.3" stroke-linecap="round"/>
<path d="M43 605.3C43.5 607.8 45.7 614.9 46.2 620.3C46.7 625.7 39.6 634.8 46.2 637.5C52.8 640.2 72.2 637 85.9 636.4C99.7 635.9 116.7 634.6 128.9 634.3C141.1 633.9 152.4 632.3 159 634.3C165.6 636.2 167.6 642.7 168.7 646.1C169.7 649.5 166 653.3 165.4 654.7" stroke="#f4f4f4" stroke-width="1.3" stroke-linecap="round" stroke-opacity="0.6"/>
<path d="M169.7 418.1C168.1 420.2 161.9 426.3 160.1 431C158.3 435.6 157.9 440.6 159 446C160.1 451.4 162.6 459.3 166.5 463.2C170.4 467.1 177.8 470.4 182.6 469.6C187.5 468.9 192.3 462.7 195.5 458.9C198.7 455.1 200.9 449.1 202 447.1" stroke="#565656" stroke-width="15.4" stroke-linecap="butt"/>
<path d="M169.7 418.1C168.1 420.2 161.9 426.3 160.1 431C158.3 435.6 157.9 440.6 159 446C160.1 451.4 162.6 459.3 166.5 463.2C170.4 467.1 177.8 470.4 182.6 469.6C187.5 468.9 192.3 462.7 195.5 458.9C198.7 455.1 200.9 449.1 202 447.1" stroke="#c6c6c6" stroke-width="13.4" stroke-linecap="butt"/>
<path d="M169.7 418.1C168.1 420.2 161.9 426.3 160.1 431C158.3 435.6 157.9 440.6 159 446C160.1 451.4 162.6 459.3 166.5 463.2C170.4 467.1 177.8 470.4 182.6 469.6C187.5 468.9 192.3 462.7 195.5 458.9C198.7 455.1 200.9 449.1 202 447.1" stroke="#f4f4f4" stroke-width="4.1" stroke-linecap="round" stroke-opacity="0.6"/>
<path d="M198.7 448.2C200 450 204.1 453.9 206.3 458.9C208.4 463.9 210.7 475 211.6 478.2" stroke="#565656" stroke-width="15.4" stroke-linecap="butt"/>
<path d="M198.7 448.2C200 450 204.1 453.9 206.3 458.9C208.4 463.9 210.7 475 211.6 478.2" stroke="#c6c6c6" stroke-width="13.4" stroke-linecap="butt"/>
<path d="M198.7 448.2C200 450 204.1 453.9 206.3 458.9C208.4 463.9 210.7 475 211.6 478.2" stroke="#f4f4f4" stroke-width="4.1" stroke-linecap="round" stroke-opacity="0.6"/>
<path d="M118.2 478.2C120 478.6 128.2 476.5 128.9 480.4C129.6 484.3 121 496.5 122.5 501.9C123.9 507.2 131.4 512.3 137.5 512.6C143.6 513 153.6 503.3 159 504C164.4 504.7 169 512.2 169.7 516.9C170.4 521.6 165.1 527.2 163.3 532.2C161.5 537.3 159.7 544.8 159 547.3" stroke="#565656" stroke-width="13.1" stroke-linecap="butt"/>
<path d="M118.2 478.2C120 478.6 128.2 476.5 128.9 480.4C129.6 484.3 121 496.5 122.5 501.9C123.9 507.2 131.4 512.3 137.5 512.6C143.6 513 153.6 503.3 159 504C164.4 504.7 169 512.2 169.7 516.9C170.4 521.6 165.1 527.2 163.3 532.2C161.5 537.3 159.7 544.8 159 547.3" stroke="#c6c6c6" stroke-width="11.1" stroke-linecap="butt"/>
<path d="M118.2 478.2C120 478.6 128.2 476.5 128.9 480.4C129.6 484.3 121 496.5 122.5 501.9C123.9 507.2 131.4 512.3 137.5 512.6C143.6 513 153.6 503.3 159 504C164.4 504.7 169 512.2 169.7 516.9C170.4 521.6 165.1 527.2 163.3 532.2C161.5 537.3 159.7 544.8 159 547.3" stroke="#f4f4f4" stroke-width="3.4" stroke-linecap="round" stroke-opacity="0.6"/>
<path d="M159 546.2C155.4 545.8 144.3 543.1 137.5 544C130.7 544.9 122.8 547.4 118.2 551.6C113.5 555.7 111 562.3 109.6 568.8C108.1 575.2 107.8 584.9 109.6 590.2C111.4 595.6 118.5 599.2 120.3 601" stroke="#565656" stroke-width="5.8" stroke-linecap="round"/>
<path d="M159 546.2C155.4 545.8 144.3 543.1 137.5 544C130.7 544.9 122.8 547.4 118.2 551.6C113.5 555.7 111 562.3 109.6 568.8C108.1 575.2 107.8 584.9 109.6 590.2C111.4 595.6 118.5 599.2 120.3 601" stroke="#c6c6c6" stroke-width="4.3" stroke-linecap="round"/>
<path d="M159 546.2C155.4 545.8 144.3 543.1 137.5 544C130.7 544.9 122.8 547.4 118.2 551.6C113.5 555.7 111 562.3 109.6 568.8C108.1 575.2 107.8 584.9 109.6 590.2C111.4 595.6 118.5 599.2 120.3 601" stroke="#f4f4f4" stroke-width="1.3" stroke-linecap="round" stroke-opacity="0.6"/>
<path d="M126.8 553.7C123.5 555.5 112.4 559.8 107.4 564.5C102.4 569.1 97.8 575.6 96.7 581.6C95.6 587.7 97 596 101 601C104.9 606 117.1 609.9 120.3 611.7" stroke="#565656" stroke-width="13.1" stroke-linecap="butt"/>
<path d="M126.8 553.7C123.5 555.5 112.4 559.8 107.4 564.5C102.4 569.1 97.8 575.6 96.7 581.6C95.6 587.7 97 596 101 601C104.9 606 117.1 609.9 120.3 611.7" stroke="#c6c6c6" stroke-width="11.1" stroke-linecap="butt"/>
<path d="M126.8 553.7C123.5 555.5 112.4 559.8 107.4 564.5C102.4 569.1 97.8 575.6 96.7 581.6C95.6 587.7 97 596 101 601C104.9 606 117.1 609.9 120.3 611.7" stroke="#f4f4f4" stroke-width="3.4" stroke-linecap="round" stroke-opacity="0.6"/>
<path d="M116 592.4C118.9 589.9 126.8 581.3 133.2 577.3C139.6 573.4 150 572 154.7 568.8C159.3 565.5 160.1 559.8 161.1 558" stroke="#565656" stroke-width="13.1" stroke-linecap="butt"/>
<path d="M116 592.4C118.9 589.9 126.8 581.3 133.2 577.3C139.6 573.4 150 572 154.7 568.8C159.3 565.5 160.1 559.8 161.1 558" stroke="#c6c6c6" stroke-width="11.1" stroke-linecap="butt"/>
<path d="M116 592.4C118.9 589.9 126.8 581.3 133.2 577.3C139.6 573.4 150 572 154.7 568.8C159.3 565.5 160.1 559.8 161.1 558" stroke="#f4f4f4" stroke-width="3.4" stroke-linecap="round" stroke-opacity="0.6"/>
<path d="M137.5 544C141.8 544.4 154 546.2 163.3 546.2C172.6 546.2 184.8 543.1 193.4 544C202 544.9 208.8 548.5 214.8 551.6C220.9 554.6 227.4 560.5 229.9 562.3" stroke="#565656" stroke-width="5.8" stroke-linecap="round"/>
<path d="M137.5 544C141.8 544.4 154 546.2 163.3 546.2C172.6 546.2 184.8 543.1 193.4 544C202 544.9 208.8 548.5 214.8 551.6C220.9 554.6 227.4 560.5 229.9 562.3" stroke="#c6c6c6" stroke-width="4.3" stroke-linecap="round"/>
<path d="M137.5 544C141.8 544.4 154 546.2 163.3 546.2C172.6 546.2 184.8 543.1 193.4 544C202 544.9 208.8 548.5 214.8 551.6C220.9 554.6 227.4 560.5 229.9 562.3" stroke="#f4f4f4" stroke-width="1.3" stroke-linecap="round" stroke-opacity="0.6"/>
<path d="M150.4 548.3C153.6 550.3 165.4 553.9 169.7 560.2C174 566.4 173.3 578.1 176.2 585.9C179 593.8 181.2 601 186.9 607.4C192.6 613.9 203 619.2 210.5 624.6C218.1 630 228.5 637.1 232 639.6" stroke="#565656" stroke-width="5.8" stroke-linecap="round"/>
<path d="M150.4 548.3C153.6 550.3 165.4 553.9 169.7 560.2C174 566.4 173.3 578.1 176.2 585.9C179 593.8 181.2 601 186.9 607.4C192.6 613.9 203 619.2 210.5 624.6C218.1 630 228.5 637.1 232 639.6" stroke="#c6c6c6" stroke-width="4.3" stroke-linecap="round"/>
<path d="M150.4 548.3C153.6 550.3 165.4 553.9 169.7 560.2C174 566.4 173.3 578.1 176.2 585.9C179 593.8 181.2 601 186.9 607.4C192.6 613.9 203 619.2 210.5 624.6C218.1 630 228.5 637.1 232 639.6" stroke="#f4f4f4" stroke-width="1.3" stroke-linecap="round" stroke-opacity="0.6"/>
<path d="M206.3 480.4C211.3 483.6 225.9 494.7 236.3 499.7C246.7 504.7 258.9 508.1 268.6 510.5C278.2 512.8 288.3 511.5 294.3 513.7C300.4 515.8 303.3 521.7 305.1 523.4" stroke="#565656" stroke-width="5.8" stroke-linecap="round"/>
<path d="M206.3 480.4C211.3 483.6 225.9 494.7 236.3 499.7C246.7 504.7 258.9 508.1 268.6 510.5C278.2 512.8 288.3 511.5 294.3 513.7C300.4 515.8 303.3 521.7 305.1 523.4" stroke="#c6c6c6" stroke-width="4.3" stroke-linecap="round"/>
<path d="M206.3 480.4C211.3 483.6 225.9 494.7 236.3 499.7C246.7 504.7 258.9 508.1 268.6 510.5C278.2 512.8 288.3 511.5 294.3 513.7C300.4 515.8 303.3 521.7 305.1 523.4" stroke="#f4f4f4" stroke-width="1.3" stroke-linecap="round" stroke-opacity="0.6"/>
<path d="M307.1 519.9L308.4 521L309.3 522.9L309.9 525.6L310.1 528.9L310.2 532.7L310 536.9L309.8 541.2L309.5 545.6L309.4 549.8L309.4 553.6L309.6 556.9L310.2 559.6L311.1 561.5L312.4 562.6L296.4 555.1L295.1 554L294.2 552.1L293.7 549.4L293.4 546.1L293.4 542.3L293.6 538.1L293.8 533.8L294.1 529.4L294.2 525.2L294.2 521.4L294 518.1L293.4 515.4L292.5 513.5L291.2 512.4Z" fill="#a4a4a4" stroke="#565656" stroke-width="1.4"/>
<path d="M301.9 521.8L302.2 525.1L302.2 529L302 533.1L301.8 537.5L301.5 541.9L301.4 546L301.4 549.9L301.7 553.2" stroke="#f4f4f4" stroke-width="5.3" stroke-linecap="round" stroke-opacity="0.45"/>
<path d="M341 535L342.6 536.3L343.7 538.4L344.5 541.3L344.9 544.9L345.1 549L345 553.4L344.9 558.1L344.8 562.7L344.8 567.1L344.9 571.2L345.4 574.8L346.1 577.7L347.3 579.8L348.8 581.1L333.2 573.1L331.6 571.8L330.4 569.7L329.7 566.8L329.3 563.2L329.1 559.1L329.1 554.7L329.2 550.1L329.4 545.4L329.4 541L329.2 536.9L328.8 533.3L328 530.4L326.9 528.3L325.3 527Z" fill="#a4a4a4" stroke="#565656" stroke-width="1.4"/>
<path d="M336.6 537.3L337.1 540.9L337.2 545L337.2 549.4L337.1 554.1L337 558.7L336.9 563.1L337.1 567.2L337.5 570.8" stroke="#f4f4f4" stroke-width="5.3" stroke-linecap="round" stroke-opacity="0.45"/>
<path d="M388.6 558.1L389.7 558.8L390.5 560L391.3 561.8L391.8 564.1L392.3 566.7L392.6 569.5L392.9 572.5L393.2 575.5L393.6 578.3L394 580.9L394.6 583.2L395.3 584.9L396.2 586.2L397.3 586.9L380.6 581.4L379.5 580.7L378.6 579.4L377.9 577.7L377.3 575.4L376.9 572.8L376.5 570L376.2 567L375.9 564L375.5 561.1L375.1 558.5L374.5 556.3L373.8 554.5L372.9 553.3L371.9 552.6Z" fill="#a4a4a4" stroke="#565656" stroke-width="1.4"/>
<path d="M382.9 559.1L383.5 561.3L383.9 563.9L384.3 566.8L384.6 569.7L384.9 572.7L385.2 575.6L385.7 578.2L386.3 580.4" stroke="#f4f4f4" stroke-width="5.3" stroke-linecap="round" stroke-opacity="0.45"/>
<path d="M312.4 562.6L313.5 562.6L315 561.8L316.9 560.2L319 557.9L321.5 555.1L324.1 552L326.7 548.6L329.4 545.3L332 542.1L334.5 539.4L336.6 537.1L338.5 535.5L340 534.7L341.1 534.7L325.2 527.2L324.1 527.2L322.6 528L320.7 529.6L318.5 531.9L316.1 534.7L313.5 537.8L310.8 541.2L308.1 544.5L305.5 547.7L303.1 550.4L300.9 552.7L299.1 554.3L297.6 555.1L296.4 555.1Z" fill="#c6c6c6" stroke="#565656" stroke-width="1.4"/>
<path d="M308.9 556.4L311.1 554.2L313.5 551.4L316.1 548.2L318.8 544.9L321.5 541.6L324.1 538.4L326.5 535.6L328.7 533.4" stroke="#f4f4f4" stroke-width="5.3" stroke-linecap="round" stroke-opacity="0.7"/>
<path d="M349.4 579.9L351.6 580.2L354 579.7L356.7 578.5L359.6 576.7L362.6 574.4L365.8 571.8L369 569L372.2 566.2L375.3 563.6L378.4 561.3L381.3 559.5L383.9 558.3L386.4 557.8L388.6 558.1L371.9 552.6L369.7 552.3L367.2 552.8L364.5 554L361.7 555.8L358.6 558.1L355.5 560.7L352.3 563.5L349 566.3L345.9 568.9L342.8 571.2L340 573L337.3 574.2L334.8 574.7L332.6 574.4Z" fill="#c6c6c6" stroke="#565656" stroke-width="1.4"/>
<path d="M348.3 575.8L351.2 574L354.2 571.7L357.4 569.1L360.6 566.3L363.8 563.4L367 560.8L370 558.5L372.9 556.7" stroke="#f4f4f4" stroke-width="5.3" stroke-linecap="round" stroke-opacity="0.7"/>
<path d="M348.7 603.1C353 601.7 369.8 593.1 374.5 594.5C379.1 596 380.2 604.6 376.6 611.7C373 618.9 360.1 631.1 353 637.5C345.8 643.9 338.6 644.7 333.6 650.4C328.6 656.1 324.7 668.3 322.9 671.9" stroke="#565656" stroke-width="6.3" stroke-linecap="round"/>
<path d="M348.7 603.1C353 601.7 369.8 593.1 374.5 594.5C379.1 596 380.2 604.6 376.6 611.7C373 618.9 360.1 631.1 353 637.5C345.8 643.9 338.6 644.7 333.6 650.4C328.6 656.1 324.7 668.3 322.9 671.9" stroke="#c6c6c6" stroke-width="4.8" stroke-linecap="round"/>
<path d="M348.7 603.1C353 601.7 369.8 593.1 374.5 594.5C379.1 596 380.2 604.6 376.6 611.7C373 618.9 360.1 631.1 353 637.5C345.8 643.9 338.6 644.7 333.6 650.4C328.6 656.1 324.7 668.3 322.9 671.9" stroke="#f4f4f4" stroke-width="1.5" stroke-linecap="round" stroke-opacity="0.6"/>
<path d="M137.5 672.9C139.6 671.5 146.8 665 150.4 664.3C154 663.6 157.6 667.9 159 668.6" stroke="#1f4a76" stroke-width="5.3" stroke-linecap="round"/>
<path d="M137.5 672.9C139.6 671.5 146.8 665 150.4 664.3C154 663.6 157.6 667.9 159 668.6" stroke="#3b80c0" stroke-width="3.8" stroke-linecap="round"/>
<path d="M137.5 672.9C139.6 671.5 146.8 665 150.4 664.3C154 663.6 157.6 667.9 159 668.6" stroke="#7eb2e0" stroke-width="1.2" stroke-linecap="round" stroke-opacity="0.6"/>
<path d="M167.6 675C170.4 675 179.4 674.9 184.8 675C190.1 675.2 197.7 676.8 199.8 676.1C202 675.4 200.5 672.9 197.7 670.7C194.8 668.6 187.6 663.2 182.6 663.2C177.6 663.2 170.1 669.5 167.6 670.7" stroke="#1f4a76" stroke-width="5.3" stroke-linecap="round"/>
<path d="M167.6 675C170.4 675 179.4 674.9 184.8 675C190.1 675.2 197.7 676.8 199.8 676.1C202 675.4 200.5 672.9 197.7 670.7C194.8 668.6 187.6 663.2 182.6 663.2C177.6 663.2 170.1 669.5 167.6 670.7" stroke="#3b80c0" stroke-width="3.8" stroke-linecap="round"/>
<path d="M167.6 675C170.4 675 179.4 674.9 184.8 675C190.1 675.2 197.7 676.8 199.8 676.1C202 675.4 200.5 672.9 197.7 670.7C194.8 668.6 187.6 663.2 182.6 663.2C177.6 663.2 170.1 669.5 167.6 670.7" stroke="#7eb2e0" stroke-width="1.2" stroke-linecap="round" stroke-opacity="0.6"/>
<path d="M150.4 690.1C147.5 693.3 140 699.4 133.2 709.4C126.4 719.4 113.5 740.6 109.6 750.2C105.6 759.9 108.1 762.8 109.6 767.4C111 772.1 115.7 778.2 118.2 778.2C120.7 778.2 123.5 769.2 124.6 767.4" stroke="#1f4a76" stroke-width="5.3" stroke-linecap="round"/>
<path d="M150.4 690.1C147.5 693.3 140 699.4 133.2 709.4C126.4 719.4 113.5 740.6 109.6 750.2C105.6 759.9 108.1 762.8 109.6 767.4C111 772.1 115.7 778.2 118.2 778.2C120.7 778.2 123.5 769.2 124.6 767.4" stroke="#3b80c0" stroke-width="3.8" stroke-linecap="round"/>
<path d="M150.4 690.1C147.5 693.3 140 699.4 133.2 709.4C126.4 719.4 113.5 740.6 109.6 750.2C105.6 759.9 108.1 762.8 109.6 767.4C111 772.1 115.7 778.2 118.2 778.2C120.7 778.2 123.5 769.2 124.6 767.4" stroke="#7eb2e0" stroke-width="1.2" stroke-linecap="round" stroke-opacity="0.6"/>
<path d="M206.3 692.2C204.1 692.6 198 690.8 193.4 694.4C188.7 698 182.6 709.4 178.3 713.7C174 718 169.4 719.1 167.6 720.2" stroke="#1f4a76" stroke-width="5.3" stroke-linecap="round"/>
<path d="M206.3 692.2C204.1 692.6 198 690.8 193.4 694.4C188.7 698 182.6 709.4 178.3 713.7C174 718 169.4 719.1 167.6 720.2" stroke="#3b80c0" stroke-width="3.8" stroke-linecap="round"/>
<path d="M206.3 692.2C204.1 692.6 198 690.8 193.4 694.4C188.7 698 182.6 709.4 178.3 713.7C174 718 169.4 719.1 167.6 720.2" stroke="#7eb2e0" stroke-width="1.2" stroke-linecap="round" stroke-opacity="0.6"/>
<path d="M156.8 726.6L124.6 765.3" stroke="#1f4a76" stroke-width="13.1" stroke-linecap="butt"/>
<path d="M156.8 726.6L124.6 765.3" stroke="#3b80c0" stroke-width="11.1" stroke-linecap="butt"/>
<path d="M156.8 726.6L124.6 765.3" stroke="#7eb2e0" stroke-width="3.4" stroke-linecap="round" stroke-opacity="0.6"/>
<path d="M204.1 737.3L156.8 784.6" stroke="#1f4a76" stroke-width="15.4" stroke-linecap="butt"/>
<path d="M204.1 737.3L156.8 784.6" stroke="#3b80c0" stroke-width="13.4" stroke-linecap="butt"/>
<path d="M204.1 737.3L156.8 784.6" stroke="#7eb2e0" stroke-width="4.1" stroke-linecap="round" stroke-opacity="0.6"/>
<path d="M156.8 784.6C155.4 788.2 149.7 799.6 148.2 806.1C146.8 812.5 147.2 820.4 148.2 823.3C149.3 826.1 152.2 826.9 154.7 823.3C157.2 819.7 161.1 807.9 163.3 801.8C165.4 795.7 166.9 789.3 167.6 786.8" stroke="#1f4a76" stroke-width="5.3" stroke-linecap="round"/>
<path d="M156.8 784.6C155.4 788.2 149.7 799.6 148.2 806.1C146.8 812.5 147.2 820.4 148.2 823.3C149.3 826.1 152.2 826.9 154.7 823.3C157.2 819.7 161.1 807.9 163.3 801.8C165.4 795.7 166.9 789.3 167.6 786.8" stroke="#3b80c0" stroke-width="3.8" stroke-linecap="round"/>
<path d="M156.8 784.6C155.4 788.2 149.7 799.6 148.2 806.1C146.8 812.5 147.2 820.4 148.2 823.3C149.3 826.1 152.2 826.9 154.7 823.3C157.2 819.7 161.1 807.9 163.3 801.8C165.4 795.7 166.9 789.3 167.6 786.8" stroke="#7eb2e0" stroke-width="1.2" stroke-linecap="round" stroke-opacity="0.6"/>
<path d="M236.3 628.9C236.3 625.3 237.4 613.9 236.3 607.4C235.3 601 233.5 594.9 229.9 590.2C226.3 585.6 218.4 584.5 214.8 579.5C211.3 574.5 208.8 566.2 208.4 560.2C208 554.1 211.6 549.4 212.7 543C213.8 536.5 215.7 528.7 214.8 521.5C214 514.3 208.8 506.8 207.3 499.9C205.9 493.1 205 487.2 206.3 480.4C207.5 473.6 209.8 468.2 214.8 458.9C219.9 449.6 230.6 435.3 236.3 424.5C242.1 413.8 246.7 402 249.2 394.5C251.7 386.9 252.4 383.4 251.4 379.4C250.3 375.5 242.1 374.8 242.8 370.8C243.5 366.9 254.2 359 255.7 355.8C257.1 352.6 256.4 351.5 251.4 351.5C246.4 351.5 231 352.2 225.6 355.8C220.2 359.4 219.1 365.4 219.1 373C219.1 380.5 225.6 393.7 225.6 400.9C225.6 408.1 221.6 410.6 219.1 415.9C216.6 421.3 211.3 425.2 210.5 433.1C209.8 441 213.8 454.6 214.8 463.2C215.9 471.8 216.3 476.8 217 484.7C217.7 492.6 217.7 505.1 219.1 510.5C220.6 515.9 220.2 514.6 225.6 517.2C231 519.7 244.9 522.2 251.4 525.8C257.8 529.4 261 532.9 264.3 538.7C267.5 544.4 269.6 556.6 270.7 560.2" stroke="#0e6612" stroke-width="5.8" stroke-linecap="round"/>
<path d="M236.3 628.9C236.3 625.3 237.4 613.9 236.3 607.4C235.3 601 233.5 594.9 229.9 590.2C226.3 585.6 218.4 584.5 214.8 579.5C211.3 574.5 208.8 566.2 208.4 560.2C208 554.1 211.6 549.4 212.7 543C213.8 536.5 215.7 528.7 214.8 521.5C214 514.3 208.8 506.8 207.3 499.9C205.9 493.1 205 487.2 206.3 480.4C207.5 473.6 209.8 468.2 214.8 458.9C219.9 449.6 230.6 435.3 236.3 424.5C242.1 413.8 246.7 402 249.2 394.5C251.7 386.9 252.4 383.4 251.4 379.4C250.3 375.5 242.1 374.8 242.8 370.8C243.5 366.9 254.2 359 255.7 355.8C257.1 352.6 256.4 351.5 251.4 351.5C246.4 351.5 231 352.2 225.6 355.8C220.2 359.4 219.1 365.4 219.1 373C219.1 380.5 225.6 393.7 225.6 400.9C225.6 408.1 221.6 410.6 219.1 415.9C216.6 421.3 211.3 425.2 210.5 433.1C209.8 441 213.8 454.6 214.8 463.2C215.9 471.8 216.3 476.8 217 484.7C217.7 492.6 217.7 505.1 219.1 510.5C220.6 515.9 220.2 514.6 225.6 517.2C231 519.7 244.9 522.2 251.4 525.8C257.8 529.4 261 532.9 264.3 538.7C267.5 544.4 269.6 556.6 270.7 560.2" stroke="#23b223" stroke-width="4.3" stroke-linecap="round"/>
<path d="M236.3 628.9C236.3 625.3 237.4 613.9 236.3 607.4C235.3 601 233.5 594.9 229.9 590.2C226.3 585.6 218.4 584.5 214.8 579.5C211.3 574.5 208.8 566.2 208.4 560.2C208 554.1 211.6 549.4 212.7 543C213.8 536.5 215.7 528.7 214.8 521.5C214 514.3 208.8 506.8 207.3 499.9C205.9 493.1 205 487.2 206.3 480.4C207.5 473.6 209.8 468.2 214.8 458.9C219.9 449.6 230.6 435.3 236.3 424.5C242.1 413.8 246.7 402 249.2 394.5C251.7 386.9 252.4 383.4 251.4 379.4C250.3 375.5 242.1 374.8 242.8 370.8C243.5 366.9 254.2 359 255.7 355.8C257.1 352.6 256.4 351.5 251.4 351.5C246.4 351.5 231 352.2 225.6 355.8C220.2 359.4 219.1 365.4 219.1 373C219.1 380.5 225.6 393.7 225.6 400.9C225.6 408.1 221.6 410.6 219.1 415.9C216.6 421.3 211.3 425.2 210.5 433.1C209.8 441 213.8 454.6 214.8 463.2C215.9 471.8 216.3 476.8 217 484.7C217.7 492.6 217.7 505.1 219.1 510.5C220.6 515.9 220.2 514.6 225.6 517.2C231 519.7 244.9 522.2 251.4 525.8C257.8 529.4 261 532.9 264.3 538.7C267.5 544.4 269.6 556.6 270.7 560.2" stroke="#66e066" stroke-width="1.3" stroke-linecap="round" stroke-opacity="0.6"/>
<path d="M227.7 585.9C224.5 587 215.2 588.4 208.4 592.4C201.6 596.3 193.7 604.6 186.9 609.6C180.1 614.6 172.2 617.8 167.6 622.5C162.9 627.1 160.1 631.4 159 637.5C157.9 643.6 161.1 653.3 161.1 659C161.1 664.7 159.3 669.7 159 671.9" stroke="#0e6612" stroke-width="5.8" stroke-linecap="round"/>
<path d="M227.7 585.9C224.5 587 215.2 588.4 208.4 592.4C201.6 596.3 193.7 604.6 186.9 609.6C180.1 614.6 172.2 617.8 167.6 622.5C162.9 627.1 160.1 631.4 159 637.5C157.9 643.6 161.1 653.3 161.1 659C161.1 664.7 159.3 669.7 159 671.9" stroke="#23b223" stroke-width="4.3" stroke-linecap="round"/>
<path d="M227.7 585.9C224.5 587 215.2 588.4 208.4 592.4C201.6 596.3 193.7 604.6 186.9 609.6C180.1 614.6 172.2 617.8 167.6 622.5C162.9 627.1 160.1 631.4 159 637.5C157.9 643.6 161.1 653.3 161.1 659C161.1 664.7 159.3 669.7 159 671.9" stroke="#66e066" stroke-width="1.3" stroke-linecap="round" stroke-opacity="0.6"/>
<path d="M272.9 611.7C273.9 615.3 277.2 624.6 279.3 633.2C281.4 641.8 282.9 655.8 285.7 663.3C288.6 670.8 296.1 676.7 296.5 678.3C296.8 679.9 288.3 670.6 287.9 672.9C287.5 675.2 293.6 686.5 294.3 692.2C295.1 698 292.5 704.8 292.2 707.3" stroke="#0e6612" stroke-width="5.8" stroke-linecap="round"/>
<path d="M272.9 611.7C273.9 615.3 277.2 624.6 279.3 633.2C281.4 641.8 282.9 655.8 285.7 663.3C288.6 670.8 296.1 676.7 296.5 678.3C296.8 679.9 288.3 670.6 287.9 672.9C287.5 675.2 293.6 686.5 294.3 692.2C295.1 698 292.5 704.8 292.2 707.3" stroke="#23b223" stroke-width="4.3" stroke-linecap="round"/>
<path d="M272.9 611.7C273.9 615.3 277.2 624.6 279.3 633.2C281.4 641.8 282.9 655.8 285.7 663.3C288.6 670.8 296.1 676.7 296.5 678.3C296.8 679.9 288.3 670.6 287.9 672.9C287.5 675.2 293.6 686.5 294.3 692.2C295.1 698 292.5 704.8 292.2 707.3" stroke="#66e066" stroke-width="1.3" stroke-linecap="round" stroke-opacity="0.6"/>
<path d="M68.8 724.5C67.7 725.5 61.2 726.6 62.3 730.9C63.4 735.2 75.2 742.7 75.2 750.2C75.2 757.8 60.5 770.3 62.3 776C64.1 781.7 77.7 781 85.9 784.6C94.2 788.2 105.6 796.8 111.7 797.5C117.8 798.2 119.6 792.5 122.5 788.9C125.3 785.3 127.8 778.2 128.9 776" stroke="#0e6612" stroke-width="5.8" stroke-linecap="round"/>
<path d="M68.8 724.5C67.7 725.5 61.2 726.6 62.3 730.9C63.4 735.2 75.2 742.7 75.2 750.2C75.2 757.8 60.5 770.3 62.3 776C64.1 781.7 77.7 781 85.9 784.6C94.2 788.2 105.6 796.8 111.7 797.5C117.8 798.2 119.6 792.5 122.5 788.9C125.3 785.3 127.8 778.2 128.9 776" stroke="#23b223" stroke-width="4.3" stroke-linecap="round"/>
<path d="M68.8 724.5C67.7 725.5 61.2 726.6 62.3 730.9C63.4 735.2 75.2 742.7 75.2 750.2C75.2 757.8 60.5 770.3 62.3 776C64.1 781.7 77.7 781 85.9 784.6C94.2 788.2 105.6 796.8 111.7 797.5C117.8 798.2 119.6 792.5 122.5 788.9C125.3 785.3 127.8 778.2 128.9 776" stroke="#66e066" stroke-width="1.3" stroke-linecap="round" stroke-opacity="0.6"/>
<path d="M68.8 724.5C73 724.5 88.4 727 94.5 724.5C100.6 721.9 104.9 713.7 105.3 709.4C105.6 705.1 98.1 700.5 96.7 698.7" stroke="#0e6612" stroke-width="11.9" stroke-linecap="butt"/>
<path d="M68.8 724.5C73 724.5 88.4 727 94.5 724.5C100.6 721.9 104.9 713.7 105.3 709.4C105.6 705.1 98.1 700.5 96.7 698.7" stroke="#23b223" stroke-width="9.9" stroke-linecap="butt"/>
<path d="M68.8 724.5C73 724.5 88.4 727 94.5 724.5C100.6 721.9 104.9 713.7 105.3 709.4C105.6 705.1 98.1 700.5 96.7 698.7" stroke="#66e066" stroke-width="3.1" stroke-linecap="round" stroke-opacity="0.6"/>
<path d="M123.5 680.4C126.2 679.5 133.7 676.3 139.6 675C145.6 673.8 155.4 675 159 672.9C162.6 670.7 160.8 663.9 161.1 662.1" stroke="#0e6612" stroke-width="13.1" stroke-linecap="butt"/>
<path d="M123.5 680.4C126.2 679.5 133.7 676.3 139.6 675C145.6 673.8 155.4 675 159 672.9C162.6 670.7 160.8 663.9 161.1 662.1" stroke="#23b223" stroke-width="11.1" stroke-linecap="butt"/>
<path d="M123.5 680.4C126.2 679.5 133.7 676.3 139.6 675C145.6 673.8 155.4 675 159 672.9C162.6 670.7 160.8 663.9 161.1 662.1" stroke="#66e066" stroke-width="3.4" stroke-linecap="round" stroke-opacity="0.6"/>
<path d="M124.6 681.5C125.7 682.9 126.8 689 131.1 690.1C135.4 691.2 145.6 690.1 150.4 687.9C155.2 685.8 157.9 674.7 160.1 677.2C162.2 679.7 164.9 695.8 163.3 703C161.7 710.1 154 716.9 150.4 720.2C146.8 723.4 143.2 721.9 141.8 722.3" stroke="#0e6612" stroke-width="13.1" stroke-linecap="butt"/>
<path d="M124.6 681.5C125.7 682.9 126.8 689 131.1 690.1C135.4 691.2 145.6 690.1 150.4 687.9C155.2 685.8 157.9 674.7 160.1 677.2C162.2 679.7 164.9 695.8 163.3 703C161.7 710.1 154 716.9 150.4 720.2C146.8 723.4 143.2 721.9 141.8 722.3" stroke="#23b223" stroke-width="11.1" stroke-linecap="butt"/>
<path d="M124.6 681.5C125.7 682.9 126.8 689 131.1 690.1C135.4 691.2 145.6 690.1 150.4 687.9C155.2 685.8 157.9 674.7 160.1 677.2C162.2 679.7 164.9 695.8 163.3 703C161.7 710.1 154 716.9 150.4 720.2C146.8 723.4 143.2 721.9 141.8 722.3" stroke="#66e066" stroke-width="3.4" stroke-linecap="round" stroke-opacity="0.6"/>
<path d="M128.9 730.9L131.1 767.4" stroke="#0e6612" stroke-width="14.2" stroke-linecap="butt"/>
<path d="M128.9 730.9L131.1 767.4" stroke="#23b223" stroke-width="12.2" stroke-linecap="butt"/>
<path d="M128.9 730.9L131.1 767.4" stroke="#66e066" stroke-width="3.8" stroke-linecap="round" stroke-opacity="0.6"/>
<path d="M119.5 764.3L126.8 783.5L142.7 770.5Z" fill="#23b223" stroke="#0e6612" stroke-width="1.2" stroke-linejoin="round"/>
<path d="M131.1 767.4L128.7 776.3" stroke="#66e066" stroke-width="3.8" stroke-linecap="round" stroke-opacity="0.7"/>
<path d="M162.2 716.2C160.9 714 155.4 707.2 154.5 703.2C153.6 699.2 156.4 694.1 156.7 692.3" stroke="#565656" stroke-width="5.3" stroke-linecap="round"/>
<path d="M162.2 716.2C160.9 714 155.4 707.2 154.5 703.2C153.6 699.2 156.4 694.1 156.7 692.3" stroke="#c6c6c6" stroke-width="3.8" stroke-linecap="round"/>
<path d="M162.2 716.2C160.9 714 155.4 707.2 154.5 703.2C153.6 699.2 156.4 694.1 156.7 692.3" stroke="#f4f4f4" stroke-width="1.2" stroke-linecap="round" stroke-opacity="0.6"/>
<path d="M168.7 783.7C168.5 780.1 168.1 769.6 167.6 762C167.1 754.3 165.8 742 165.4 738" stroke="#565656" stroke-width="15.4" stroke-linecap="butt"/>
<path d="M168.7 783.7C168.5 780.1 168.1 769.6 167.6 762C167.1 754.3 165.8 742 165.4 738" stroke="#c6c6c6" stroke-width="13.4" stroke-linecap="butt"/>
<path d="M168.7 783.7C168.5 780.1 168.1 769.6 167.6 762C167.1 754.3 165.8 742 165.4 738" stroke="#f4f4f4" stroke-width="4.1" stroke-linecap="round" stroke-opacity="0.6"/>
<path d="M176.3 736.4L162.2 716.2L154.5 739.6Z" fill="#c6c6c6" stroke="#565656" stroke-width="1.2" stroke-linejoin="round"/>
<path d="M165.4 738L163.6 726" stroke="#f4f4f4" stroke-width="4.2" stroke-linecap="round" stroke-opacity="0.7"/>
<path d="M204.6 666.1C206.4 663.2 210.1 652.7 215.5 648.7C221 644.7 233.7 643.3 237.3 642.2" stroke="#565656" stroke-width="14.2" stroke-linecap="butt"/>
<path d="M204.6 666.1C206.4 663.2 210.1 652.7 215.5 648.7C221 644.7 233.7 643.3 237.3 642.2" stroke="#c6c6c6" stroke-width="12.2" stroke-linecap="butt"/>
<path d="M204.6 666.1C206.4 663.2 210.1 652.7 215.5 648.7C221 644.7 233.7 643.3 237.3 642.2" stroke="#f4f4f4" stroke-width="3.8" stroke-linecap="round" stroke-opacity="0.6"/>
<path d="M204.6 666.1C207.5 666.5 217.7 665.4 222 668.3C226.4 671.2 229.3 681 230.8 683.6" stroke="#565656" stroke-width="14.2" stroke-linecap="butt"/>
<path d="M204.6 666.1C207.5 666.5 217.7 665.4 222 668.3C226.4 671.2 229.3 681 230.8 683.6" stroke="#c6c6c6" stroke-width="12.2" stroke-linecap="butt"/>
<path d="M204.6 666.1C207.5 666.5 217.7 665.4 222 668.3C226.4 671.2 229.3 681 230.8 683.6" stroke="#f4f4f4" stroke-width="3.8" stroke-linecap="round" stroke-opacity="0.6"/>
<path d="M261.6 644L260.7 642.6L258.8 641.3L255.8 640.4L251.9 640L247.4 640.2L242.4 641L237.4 642.5L232.7 644.7L228.4 647.4L225 650.7L222.6 654.2L221.4 658" stroke="#0e6612" stroke-width="11.6" stroke-linecap="round"/>
<path d="M261.6 644L260.7 642.6L258.8 641.3L255.8 640.4L251.9 640L247.4 640.2L242.4 641L237.4 642.5L232.7 644.7L228.4 647.4L225 650.7L222.6 654.2L221.4 658" stroke="#1d9b1e" stroke-width="9.6" stroke-linecap="round"/>
<path d="M256.6 671L255.8 669.5L253.7 668.2L250.5 667.2L246.3 666.7L241.5 666.8L236.2 667.5L231 668.9L226.1 671L221.9 673.7L218.5 676.8L216.3 680.3L215.4 684" stroke="#0e6612" stroke-width="11.6" stroke-linecap="round"/>
<path d="M256.6 671L255.8 669.5L253.7 668.2L250.5 667.2L246.3 666.7L241.5 666.8L236.2 667.5L231 668.9L226.1 671L221.9 673.7L218.5 676.8L216.3 680.3L215.4 684" stroke="#1d9b1e" stroke-width="9.6" stroke-linecap="round"/>
<path d="M252.1 702L251.2 700.9L248.9 700L245.5 699.4L241.1 699.3L236 699.8L230.5 701L225 702.8L219.8 705.3L215.3 708.4L211.8 712L209.5 715.9L208.5 720" stroke="#0e6612" stroke-width="11.6" stroke-linecap="round"/>
<path d="M252.1 702L251.2 700.9L248.9 700L245.5 699.4L241.1 699.3L236 699.8L230.5 701L225 702.8L219.8 705.3L215.3 708.4L211.8 712L209.5 715.9L208.5 720" stroke="#1d9b1e" stroke-width="9.6" stroke-linecap="round"/>
<path d="M251.2 738L250.7 736.9L248.7 736L245.4 735.4L241.1 735.3L236 735.8L230.5 737L225 738.8L219.8 741.3L215.3 744.4L211.9 748L209.7 751.9L209 756" stroke="#0e6612" stroke-width="11.6" stroke-linecap="round"/>
<path d="M251.2 738L250.7 736.9L248.7 736L245.4 735.4L241.1 735.3L236 735.8L230.5 737L225 738.8L219.8 741.3L215.3 744.4L211.9 748L209.7 751.9L209 756" stroke="#1d9b1e" stroke-width="9.6" stroke-linecap="round"/>
<path d="M235.1 630L235 633.8L236 637.3L237.8 640.6L240.5 643.3L243.7 645.5L247.4 647L251 647.8L254.5 648L257.6 647.6L259.9 646.7L261.2 645.4L261.6 644" stroke="#0e6612" stroke-width="11.6" stroke-linecap="round"/>
<path d="M235.1 630L235 633.8L236 637.3L237.8 640.6L240.5 643.3L243.7 645.5L247.4 647L251 647.8L254.5 648L257.6 647.6L259.9 646.7L261.2 645.4L261.6 644" stroke="#23b223" stroke-width="9.6" stroke-linecap="round"/>
<path d="M235.1 630L235 633.8L236 637.3L237.8 640.6L240.5 643.3L243.7 645.5L247.4 647L251 647.8L254.5 648L257.6 647.6L259.9 646.7L261.2 645.4L261.6 644" stroke="#66e066" stroke-width="3" stroke-linecap="round" stroke-opacity="0.6"/>
<path d="M221.4 658L221.8 661.7L223.4 665.2L226.1 668.3L229.8 671L234.1 673.1L238.8 674.5L243.4 675.2L247.8 675.3L251.5 674.8L254.4 673.8L256.1 672.5L256.6 671" stroke="#0e6612" stroke-width="11.6" stroke-linecap="round"/>
<path d="M221.4 658L221.8 661.7L223.4 665.2L226.1 668.3L229.8 671L234.1 673.1L238.8 674.5L243.4 675.2L247.8 675.3L251.5 674.8L254.4 673.8L256.1 672.5L256.6 671" stroke="#23b223" stroke-width="9.6" stroke-linecap="round"/>
<path d="M221.4 658L221.8 661.7L223.4 665.2L226.1 668.3L229.8 671L234.1 673.1L238.8 674.5L243.4 675.2L247.8 675.3L251.5 674.8L254.4 673.8L256.1 672.5L256.6 671" stroke="#66e066" stroke-width="3" stroke-linecap="round" stroke-opacity="0.6"/>
<path d="M215.4 684L215.8 688.1L217.5 692L220.3 695.6L224.1 698.7L228.6 701.2L233.5 703L238.4 704.2L243 704.7L246.8 704.6L249.8 704L251.6 703.1L252.1 702" stroke="#0e6612" stroke-width="11.6" stroke-linecap="round"/>
<path d="M215.4 684L215.8 688.1L217.5 692L220.3 695.6L224.1 698.7L228.6 701.2L233.5 703L238.4 704.2L243 704.7L246.8 704.6L249.8 704L251.6 703.1L252.1 702" stroke="#23b223" stroke-width="9.6" stroke-linecap="round"/>
<path d="M215.4 684L215.8 688.1L217.5 692L220.3 695.6L224.1 698.7L228.6 701.2L233.5 703L238.4 704.2L243 704.7L246.8 704.6L249.8 704L251.6 703.1L252.1 702" stroke="#66e066" stroke-width="3" stroke-linecap="round" stroke-opacity="0.6"/>
<path d="M208.5 720L209.2 724.1L211.3 728L214.6 731.6L219 734.7L224 737.2L229.5 739L235 740.2L240.2 740.7L244.6 740.6L248.1 740L250.4 739.1L251.2 738" stroke="#0e6612" stroke-width="11.6" stroke-linecap="round"/>
<path d="M208.5 720L209.2 724.1L211.3 728L214.6 731.6L219 734.7L224 737.2L229.5 739L235 740.2L240.2 740.7L244.6 740.6L248.1 740L250.4 739.1L251.2 738" stroke="#23b223" stroke-width="9.6" stroke-linecap="round"/>
<path d="M208.5 720L209.2 724.1L211.3 728L214.6 731.6L219 734.7L224 737.2L229.5 739L235 740.2L240.2 740.7L244.6 740.6L248.1 740L250.4 739.1L251.2 738" stroke="#66e066" stroke-width="3" stroke-linecap="round" stroke-opacity="0.6"/>
<path d="M209 756L209.9 760.4L212.5 764.6L216.6 768.4L221.9 771.5L228 774L234.3 775.6L240.6 776.5L246.1 776.7" stroke="#0e6612" stroke-width="11.6" stroke-linecap="round"/>
<path d="M209 756L209.9 760.4L212.5 764.6L216.6 768.4L221.9 771.5L228 774L234.3 775.6L240.6 776.5L246.1 776.7" stroke="#23b223" stroke-width="9.6" stroke-linecap="round"/>
<path d="M209 756L209.9 760.4L212.5 764.6L216.6 768.4L221.9 771.5L228 774L234.3 775.6L240.6 776.5L246.1 776.7" stroke="#66e066" stroke-width="3" stroke-linecap="round" stroke-opacity="0.6"/>
<path d="M226.3 688.2C226.8 691.8 225.8 704.2 229.2 709.8C232.6 715.4 240.3 719.4 246.9 721.6C253.4 723.7 261.6 724.5 268.4 722.5C275.3 720.6 282.8 715.5 288 709.8C293.3 704.1 296.1 693.5 299.8 688.2C303.5 683 308.3 680.1 310 678.4" stroke="#565656" stroke-width="6.3" stroke-linecap="round"/>
<path d="M226.3 688.2C226.8 691.8 225.8 704.2 229.2 709.8C232.6 715.4 240.3 719.4 246.9 721.6C253.4 723.7 261.6 724.5 268.4 722.5C275.3 720.6 282.8 715.5 288 709.8C293.3 704.1 296.1 693.5 299.8 688.2C303.5 683 308.3 680.1 310 678.4" stroke="#c6c6c6" stroke-width="4.8" stroke-linecap="round"/>
<path d="M226.3 688.2C226.8 691.8 225.8 704.2 229.2 709.8C232.6 715.4 240.3 719.4 246.9 721.6C253.4 723.7 261.6 724.5 268.4 722.5C275.3 720.6 282.8 715.5 288 709.8C293.3 704.1 296.1 693.5 299.8 688.2C303.5 683 308.3 680.1 310 678.4" stroke="#f4f4f4" stroke-width="1.5" stroke-linecap="round" stroke-opacity="0.6"/>
<path d="M234.1 638.2C234.8 640 241.1 645.9 238 649C234.9 652.1 221 653.9 215.5 656.9C209.9 659.8 206.5 665 204.7 666.7" stroke="#565656" stroke-width="14.2" stroke-linecap="butt"/>
<path d="M234.1 638.2C234.8 640 241.1 645.9 238 649C234.9 652.1 221 653.9 215.5 656.9C209.9 659.8 206.5 665 204.7 666.7" stroke="#c6c6c6" stroke-width="12.2" stroke-linecap="butt"/>
<path d="M234.1 638.2C234.8 640 241.1 645.9 238 649C234.9 652.1 221 653.9 215.5 656.9C209.9 659.8 206.5 665 204.7 666.7" stroke="#f4f4f4" stroke-width="3.8" stroke-linecap="round" stroke-opacity="0.6"/>
<path d="M204.7 665.7C206.2 667.8 209.4 675.3 213.5 678.4C217.6 681.5 226.6 683.3 229.2 684.3" stroke="#565656" stroke-width="14.2" stroke-linecap="butt"/>
<path d="M204.7 665.7C206.2 667.8 209.4 675.3 213.5 678.4C217.6 681.5 226.6 683.3 229.2 684.3" stroke="#c6c6c6" stroke-width="12.2" stroke-linecap="butt"/>
<path d="M204.7 665.7C206.2 667.8 209.4 675.3 213.5 678.4C217.6 681.5 226.6 683.3 229.2 684.3" stroke="#f4f4f4" stroke-width="3.8" stroke-linecap="round" stroke-opacity="0.6"/>
<path d="M236 764.7C242.4 765 266 769.3 274.3 766.7C282.6 764.1 282.4 754.2 286 749C289.6 743.8 291.9 738.9 295.9 735.3C299.9 731.7 306.5 729.7 310 727.5C313.5 725.3 315.8 722.9 317 722" stroke="#0e6612" stroke-width="5.8" stroke-linecap="round"/>
<path d="M236 764.7C242.4 765 266 769.3 274.3 766.7C282.6 764.1 282.4 754.2 286 749C289.6 743.8 291.9 738.9 295.9 735.3C299.9 731.7 306.5 729.7 310 727.5C313.5 725.3 315.8 722.9 317 722" stroke="#23b223" stroke-width="4.3" stroke-linecap="round"/>
<path d="M236 764.7C242.4 765 266 769.3 274.3 766.7C282.6 764.1 282.4 754.2 286 749C289.6 743.8 291.9 738.9 295.9 735.3C299.9 731.7 306.5 729.7 310 727.5C313.5 725.3 315.8 722.9 317 722" stroke="#66e066" stroke-width="1.3" stroke-linecap="round" stroke-opacity="0.6"/>
<path d="M318 726.6C315.8 729.8 307.2 739.1 305.1 745.9C302.9 752.7 302.9 761.7 305.1 767.4C307.2 773.2 313.8 778.2 318 780.3C322.1 782.5 328 780.3 330 780.3" stroke="#0e6612" stroke-width="5.8" stroke-linecap="round"/>
<path d="M318 726.6C315.8 729.8 307.2 739.1 305.1 745.9C302.9 752.7 302.9 761.7 305.1 767.4C307.2 773.2 313.8 778.2 318 780.3C322.1 782.5 328 780.3 330 780.3" stroke="#23b223" stroke-width="4.3" stroke-linecap="round"/>
<path d="M318 726.6C315.8 729.8 307.2 739.1 305.1 745.9C302.9 752.7 302.9 761.7 305.1 767.4C307.2 773.2 313.8 778.2 318 780.3C322.1 782.5 328 780.3 330 780.3" stroke="#66e066" stroke-width="1.3" stroke-linecap="round" stroke-opacity="0.6"/>
<path d="M271.4 613.2C272.8 617.3 276.9 628.3 280.1 637.6C283.3 646.9 288.2 662.6 290.5 669C292.9 675.4 293.4 674.8 294 675.9" stroke="#0e6612" stroke-width="5.8" stroke-linecap="round"/>
<path d="M271.4 613.2C272.8 617.3 276.9 628.3 280.1 637.6C283.3 646.9 288.2 662.6 290.5 669C292.9 675.4 293.4 674.8 294 675.9" stroke="#23b223" stroke-width="4.3" stroke-linecap="round"/>
<path d="M271.4 613.2C272.8 617.3 276.9 628.3 280.1 637.6C283.3 646.9 288.2 662.6 290.5 669C292.9 675.4 293.4 674.8 294 675.9" stroke="#66e066" stroke-width="1.3" stroke-linecap="round" stroke-opacity="0.6"/>
<path d="M292.3 699.8C293.2 696.4 295.2 685.7 297.5 679.4C299.8 673.1 304.3 669 306.2 662C308.1 655 308.3 644.3 308.8 637.6C309.4 630.9 309.6 624.5 309.7 621.9" stroke="#0e6612" stroke-width="13.1" stroke-linecap="butt"/>
<path d="M292.3 699.8C293.2 696.4 295.2 685.7 297.5 679.4C299.8 673.1 304.3 669 306.2 662C308.1 655 308.3 644.3 308.8 637.6C309.4 630.9 309.6 624.5 309.7 621.9" stroke="#23b223" stroke-width="11.1" stroke-linecap="butt"/>
<path d="M292.3 699.8C293.2 696.4 295.2 685.7 297.5 679.4C299.8 673.1 304.3 669 306.2 662C308.1 655 308.3 644.3 308.8 637.6C309.4 630.9 309.6 624.5 309.7 621.9" stroke="#66e066" stroke-width="3.4" stroke-linecap="round" stroke-opacity="0.6"/>
<path d="M321.5 619.7L305.4 598.4L297.9 624.1Z" fill="#23b223" stroke="#0e6612" stroke-width="1.2" stroke-linejoin="round"/>
<path d="M309.7 621.9L307.3 609" stroke="#66e066" stroke-width="3.5" stroke-linecap="round" stroke-opacity="0.7"/>
<path d="M266.1 592.3C267.3 590 269.6 581.7 273.1 578.3C276.6 575 282.7 572 287.1 572.2C291.4 572.5 296.2 576.7 299.3 580.1C302.3 583.4 304.3 590.3 305.4 592.3" stroke="#0e6612" stroke-width="11.9" stroke-linecap="butt"/>
<path d="M266.1 592.3C267.3 590 269.6 581.7 273.1 578.3C276.6 575 282.7 572 287.1 572.2C291.4 572.5 296.2 576.7 299.3 580.1C302.3 583.4 304.3 590.3 305.4 592.3" stroke="#23b223" stroke-width="9.9" stroke-linecap="butt"/>
<path d="M266.1 592.3C267.3 590 269.6 581.7 273.1 578.3C276.6 575 282.7 572 287.1 572.2C291.4 572.5 296.2 576.7 299.3 580.1C302.3 583.4 304.3 590.3 305.4 592.3" stroke="#66e066" stroke-width="3.1" stroke-linecap="round" stroke-opacity="0.6"/>
<path d="M297.9 591.2L303.6 604.5L312.8 593.3Z" fill="#23b223" stroke="#0e6612" stroke-width="1.2" stroke-linejoin="round"/>
<path d="M305.4 592.3L304.4 599" stroke="#66e066" stroke-width="3.1" stroke-linecap="round" stroke-opacity="0.7"/>
<path d="M233.4 579.7L233.9 581.7L235.4 583.6L237.8 585.6L241 587.5L244.7 589.4L248.9 591.3L253.3 593.1L257.7 595L261.8 596.9L265.6 598.8L268.7 600.7L271.1 602.6L272.6 604.6L273.1 606.6L272.6 589L272 587L270.5 585L268.1 583.1L265 581.2L261.2 579.3L257.1 577.4L252.7 575.5L248.3 573.7L244.1 571.8L240.4 569.9L237.3 568L234.9 566.1L233.4 564.1L232.8 562.1Z" fill="#32bcc2" stroke="#1a838a" stroke-width="1.4"/>
<path d="M237.5 576.8L240.7 578.7L244.4 580.6L248.6 582.5L253 584.3L257.4 586.2L261.5 588.1L265.3 590L268.4 591.9" stroke="#aaf5f7" stroke-width="5.3" stroke-linecap="round" stroke-opacity="0.45"/>
<path d="M230 637.5L230.1 638.3L230.6 639.2L231.6 640.2L233 641.3L234.7 642.5L236.6 643.7L238.6 645L240.6 646.2L242.5 647.5L244.2 648.7L245.6 649.8L246.6 650.8L247.1 651.7L247.2 652.5L251.3 635.4L251.2 634.6L250.6 633.7L249.6 632.7L248.3 631.5L246.6 630.4L244.7 629.1L242.7 627.9L240.6 626.6L238.7 625.4L237.1 624.2L235.7 623.1L234.7 622.1L234.1 621.1L234.1 620.3Z" fill="#32bcc2" stroke="#1a838a" stroke-width="1.4"/>
<path d="M233.6 631.6L235 632.8L236.7 633.9L238.6 635.2L240.6 636.4L242.6 637.7L244.5 638.9L246.2 640.1L247.6 641.2" stroke="#aaf5f7" stroke-width="5.3" stroke-linecap="round" stroke-opacity="0.45"/>
<path d="M268.8 565.7L268.4 566.7L267.1 567.6L265 568.6L262.2 569.6L258.8 570.6L255.1 571.7L251.1 572.7L247.2 573.8L243.4 574.8L240 575.8L237.2 576.8L235.1 577.8L233.8 578.8L233.4 579.7L232.8 562.1L233.2 561.2L234.5 560.2L236.6 559.2L239.5 558.2L242.8 557.2L246.6 556.2L250.5 555.1L254.5 554.1L258.3 553L261.6 552L264.4 551L266.6 550L267.9 549.1L268.3 548.1Z" fill="#3dd5da" stroke="#1a838a" stroke-width="1.4"/>
<path d="M264.7 559.8L261.9 560.8L258.6 561.8L254.8 562.9L250.8 563.9L246.9 565L243.1 566L239.7 567L236.9 568" stroke="#aaf5f7" stroke-width="5.3" stroke-linecap="round" stroke-opacity="0.7"/>
<path d="M270.8 606.3L269.8 609L267.9 611.5L265.4 613.8L262.2 615.9L258.6 618L254.6 620L250.4 621.9L246.2 623.8L242.2 625.8L238.6 627.8L235.4 630L232.9 632.3L231.1 634.8L230 637.5L234.1 620.3L235.1 617.7L236.9 615.2L239.5 612.9L242.6 610.7L246.3 608.7L250.3 606.7L254.5 604.8L258.7 602.8L262.7 600.9L266.3 598.8L269.5 596.7L272 594.3L273.8 591.9L274.9 589.2Z" fill="#3dd5da" stroke="#1a838a" stroke-width="1.4"/>
<path d="M267.4 605.2L264.3 607.4L260.6 609.4L256.6 611.4L252.4 613.3L248.3 615.3L244.3 617.2L240.6 619.3L237.5 621.4" stroke="#aaf5f7" stroke-width="5.3" stroke-linecap="round" stroke-opacity="0.7"/>
<path d="M251.4 643.9C253.5 647.2 258.5 658.3 264.3 663.3C270 668.3 279.7 672.6 285.7 674C291.8 675.5 295.4 673.7 300.8 671.9C306.2 670.1 313.1 665.1 318 663.3C322.8 661.5 328 661.5 330 661.1" stroke="#125f63" stroke-width="5.8" stroke-linecap="round"/>
<path d="M251.4 643.9C253.5 647.2 258.5 658.3 264.3 663.3C270 668.3 279.7 672.6 285.7 674C291.8 675.5 295.4 673.7 300.8 671.9C306.2 670.1 313.1 665.1 318 663.3C322.8 661.5 328 661.5 330 661.1" stroke="#28a3a4" stroke-width="4.3" stroke-linecap="round"/>
<path d="M251.4 643.9C253.5 647.2 258.5 658.3 264.3 663.3C270 668.3 279.7 672.6 285.7 674C291.8 675.5 295.4 673.7 300.8 671.9C306.2 670.1 313.1 665.1 318 663.3C322.8 661.5 328 661.5 330 661.1" stroke="#62d2d2" stroke-width="1.3" stroke-linecap="round" stroke-opacity="0.6"/>
<path d="M81.6 687.9C83.1 686.7 87 679.7 90.2 680.4C93.5 681.1 99.9 689.2 101 692.2C102.1 695.3 97.4 697.6 96.7 698.7" stroke="#7c6848" stroke-width="10.8" stroke-linecap="butt"/>
<path d="M81.6 687.9C83.1 686.7 87 679.7 90.2 680.4C93.5 681.1 99.9 689.2 101 692.2C102.1 695.3 97.4 697.6 96.7 698.7" stroke="#d8bc94" stroke-width="8.8" stroke-linecap="butt"/>
<path d="M81.6 687.9C83.1 686.7 87 679.7 90.2 680.4C93.5 681.1 99.9 689.2 101 692.2C102.1 695.3 97.4 697.6 96.7 698.7" stroke="#f3e3c8" stroke-width="2.8" stroke-linecap="round" stroke-opacity="0.6"/>
<path d="M101 696.5C103.5 695.8 112.4 693.7 116 692.2C119.6 690.8 121.4 688.6 122.5 687.9" stroke="#7c6848" stroke-width="5.3" stroke-linecap="round"/>
<path d="M101 696.5C103.5 695.8 112.4 693.7 116 692.2C119.6 690.8 121.4 688.6 122.5 687.9" stroke="#d8bc94" stroke-width="3.8" stroke-linecap="round"/>
<path d="M101 696.5C103.5 695.8 112.4 693.7 116 692.2C119.6 690.8 121.4 688.6 122.5 687.9" stroke="#f3e3c8" stroke-width="1.2" stroke-linecap="round" stroke-opacity="0.6"/>
<path d="M120.3 668.6C121.7 667.9 126.8 663.9 128.9 664.3C131.1 664.7 132.5 669.7 133.2 670.7" stroke="#7c6848" stroke-width="5.3" stroke-linecap="round"/>
<path d="M120.3 668.6C121.7 667.9 126.8 663.9 128.9 664.3C131.1 664.7 132.5 669.7 133.2 670.7" stroke="#d8bc94" stroke-width="3.8" stroke-linecap="round"/>
<path d="M120.3 668.6C121.7 667.9 126.8 663.9 128.9 664.3C131.1 664.7 132.5 669.7 133.2 670.7" stroke="#f3e3c8" stroke-width="1.2" stroke-linecap="round" stroke-opacity="0.6"/>
<path d="M244.9 829.7C248.1 826.9 255 818.6 264.3 812.5C273.6 806.5 289.8 797.5 300.8 793.2C311.7 788.9 324.9 787.8 330 786.8C335.1 785.7 325.9 787.5 331.5 786.8C337.1 786 353 783.9 363.7 782.5C374.5 781 387.7 782.1 395.9 778.2C404.2 774.2 407.4 764.6 413.1 758.8C418.9 753.1 424.2 747.7 430.3 743.8C436.4 739.9 445.4 736.6 449.6 735.2C453.9 733.8 455 735.2 456.1 735.2" stroke="#7c6848" stroke-width="5.8" stroke-linecap="round"/>
<path d="M244.9 829.7C248.1 826.9 255 818.6 264.3 812.5C273.6 806.5 289.8 797.5 300.8 793.2C311.7 788.9 324.9 787.8 330 786.8C335.1 785.7 325.9 787.5 331.5 786.8C337.1 786 353 783.9 363.7 782.5C374.5 781 387.7 782.1 395.9 778.2C404.2 774.2 407.4 764.6 413.1 758.8C418.9 753.1 424.2 747.7 430.3 743.8C436.4 739.9 445.4 736.6 449.6 735.2C453.9 733.8 455 735.2 456.1 735.2" stroke="#d8bc94" stroke-width="4.3" stroke-linecap="round"/>
<path d="M244.9 829.7C248.1 826.9 255 818.6 264.3 812.5C273.6 806.5 289.8 797.5 300.8 793.2C311.7 788.9 324.9 787.8 330 786.8C335.1 785.7 325.9 787.5 331.5 786.8C337.1 786 353 783.9 363.7 782.5C374.5 781 387.7 782.1 395.9 778.2C404.2 774.2 407.4 764.6 413.1 758.8C418.9 753.1 424.2 747.7 430.3 743.8C436.4 739.9 445.4 736.6 449.6 735.2C453.9 733.8 455 735.2 456.1 735.2" stroke="#f3e3c8" stroke-width="1.3" stroke-linecap="round" stroke-opacity="0.6"/>
<path d="M357.3 553.7C357.6 549.4 360.5 534 359.4 527.9C358.3 521.8 353.3 522.3 350.8 517C348.3 511.7 347.6 501.4 344.4 496.2C341.2 490.9 335.4 487.9 331.5 485.4C327.5 482.9 319.7 482 320.7 481.1C321.8 480.2 332.6 478.3 337.9 480.1C343.3 481.9 347.2 490.3 353 491.9C358.7 493.5 366.9 495.1 372.3 489.7C377.7 484.4 380.2 463.2 385.2 459.6C390.2 456.1 396.3 468.1 402.4 468.2C408.5 468.4 415.6 461.4 421.7 460.7C427.8 460 432.5 465.9 438.9 463.9C445.4 462 453.2 454.3 460.4 448.9C467.6 443.5 474.7 436 481.9 431.7C489 427.4 497.6 424.2 503.4 423.1C509.1 422.1 514.1 424.9 516.3 425.3" stroke="#125f63" stroke-width="5.8" stroke-linecap="round"/>
<path d="M357.3 553.7C357.6 549.4 360.5 534 359.4 527.9C358.3 521.8 353.3 522.3 350.8 517C348.3 511.7 347.6 501.4 344.4 496.2C341.2 490.9 335.4 487.9 331.5 485.4C327.5 482.9 319.7 482 320.7 481.1C321.8 480.2 332.6 478.3 337.9 480.1C343.3 481.9 347.2 490.3 353 491.9C358.7 493.5 366.9 495.1 372.3 489.7C377.7 484.4 380.2 463.2 385.2 459.6C390.2 456.1 396.3 468.1 402.4 468.2C408.5 468.4 415.6 461.4 421.7 460.7C427.8 460 432.5 465.9 438.9 463.9C445.4 462 453.2 454.3 460.4 448.9C467.6 443.5 474.7 436 481.9 431.7C489 427.4 497.6 424.2 503.4 423.1C509.1 422.1 514.1 424.9 516.3 425.3" stroke="#28a3a4" stroke-width="4.3" stroke-linecap="round"/>
<path d="M357.3 553.7C357.6 549.4 360.5 534 359.4 527.9C358.3 521.8 353.3 522.3 350.8 517C348.3 511.7 347.6 501.4 344.4 496.2C341.2 490.9 335.4 487.9 331.5 485.4C327.5 482.9 319.7 482 320.7 481.1C321.8 480.2 332.6 478.3 337.9 480.1C343.3 481.9 347.2 490.3 353 491.9C358.7 493.5 366.9 495.1 372.3 489.7C377.7 484.4 380.2 463.2 385.2 459.6C390.2 456.1 396.3 468.1 402.4 468.2C408.5 468.4 415.6 461.4 421.7 460.7C427.8 460 432.5 465.9 438.9 463.9C445.4 462 453.2 454.3 460.4 448.9C467.6 443.5 474.7 436 481.9 431.7C489 427.4 497.6 424.2 503.4 423.1C509.1 422.1 514.1 424.9 516.3 425.3" stroke="#62d2d2" stroke-width="1.3" stroke-linecap="round" stroke-opacity="0.6"/>
<path d="M462.5 395.2C461.8 395.7 459.7 398.6 458.2 398.4C456.8 398.2 453.9 395.6 453.9 394.1C453.9 392.7 456.5 390.4 458.2 389.8C460 389.3 460.8 388.9 464.7 390.9C468.6 392.9 477.9 396.6 481.9 401.6C485.8 406.7 487.2 417.8 488.3 421" stroke="#125f63" stroke-width="5.8" stroke-linecap="round"/>
<path d="M462.5 395.2C461.8 395.7 459.7 398.6 458.2 398.4C456.8 398.2 453.9 395.6 453.9 394.1C453.9 392.7 456.5 390.4 458.2 389.8C460 389.3 460.8 388.9 464.7 390.9C468.6 392.9 477.9 396.6 481.9 401.6C485.8 406.7 487.2 417.8 488.3 421" stroke="#28a3a4" stroke-width="4.3" stroke-linecap="round"/>
<path d="M462.5 395.2C461.8 395.7 459.7 398.6 458.2 398.4C456.8 398.2 453.9 395.6 453.9 394.1C453.9 392.7 456.5 390.4 458.2 389.8C460 389.3 460.8 388.9 464.7 390.9C468.6 392.9 477.9 396.6 481.9 401.6C485.8 406.7 487.2 417.8 488.3 421" stroke="#62d2d2" stroke-width="1.3" stroke-linecap="round" stroke-opacity="0.6"/>
<path d="M458.2 393C462.2 390.9 476.9 388.8 481.9 380.2C486.9 371.6 485.8 348.8 488.3 341.5C490.8 334.1 493.3 335.4 496.9 336.1C500.5 336.8 507.3 339.5 509.8 345.8C512.3 352 512.3 364.8 512 373.7C511.6 382.7 510.9 392.7 507.7 399.5C504.4 406.3 496.9 409.9 492.6 414.5C488.3 419.2 483.7 422.4 481.9 427.4C480.1 432.4 479.4 438.2 481.9 444.6C484.4 451.1 493.3 458.6 496.9 466.1C500.5 473.6 502.3 483.6 503.4 489.7C504.4 495.8 503.4 500.5 503.4 502.6" stroke="#125f63" stroke-width="5.8" stroke-linecap="round"/>
<path d="M458.2 393C462.2 390.9 476.9 388.8 481.9 380.2C486.9 371.6 485.8 348.8 488.3 341.5C490.8 334.1 493.3 335.4 496.9 336.1C500.5 336.8 507.3 339.5 509.8 345.8C512.3 352 512.3 364.8 512 373.7C511.6 382.7 510.9 392.7 507.7 399.5C504.4 406.3 496.9 409.9 492.6 414.5C488.3 419.2 483.7 422.4 481.9 427.4C480.1 432.4 479.4 438.2 481.9 444.6C484.4 451.1 493.3 458.6 496.9 466.1C500.5 473.6 502.3 483.6 503.4 489.7C504.4 495.8 503.4 500.5 503.4 502.6" stroke="#28a3a4" stroke-width="4.3" stroke-linecap="round"/>
<path d="M458.2 393C462.2 390.9 476.9 388.8 481.9 380.2C486.9 371.6 485.8 348.8 488.3 341.5C490.8 334.1 493.3 335.4 496.9 336.1C500.5 336.8 507.3 339.5 509.8 345.8C512.3 352 512.3 364.8 512 373.7C511.6 382.7 510.9 392.7 507.7 399.5C504.4 406.3 496.9 409.9 492.6 414.5C488.3 419.2 483.7 422.4 481.9 427.4C480.1 432.4 479.4 438.2 481.9 444.6C484.4 451.1 493.3 458.6 496.9 466.1C500.5 473.6 502.3 483.6 503.4 489.7C504.4 495.8 503.4 500.5 503.4 502.6" stroke="#62d2d2" stroke-width="1.3" stroke-linecap="round" stroke-opacity="0.6"/>
<path d="M477.6 414.5C477.2 413.1 473.6 409.2 475.4 405.9C477.2 402.7 483.3 397.2 488.3 395.2C493.3 393.2 501.9 392.3 505.5 394.1C509.1 395.9 510.5 402.2 509.8 405.9C509.1 409.7 504.4 414.2 501.2 416.7C498 419.2 492.3 420.3 490.5 421" stroke="#125f63" stroke-width="11.9" stroke-linecap="round"/>
<path d="M477.6 414.5C477.2 413.1 473.6 409.2 475.4 405.9C477.2 402.7 483.3 397.2 488.3 395.2C493.3 393.2 501.9 392.3 505.5 394.1C509.1 395.9 510.5 402.2 509.8 405.9C509.1 409.7 504.4 414.2 501.2 416.7C498 419.2 492.3 420.3 490.5 421" stroke="#28a3a4" stroke-width="9.9" stroke-linecap="round"/>
<path d="M477.6 414.5C477.2 413.1 473.6 409.2 475.4 405.9C477.2 402.7 483.3 397.2 488.3 395.2C493.3 393.2 501.9 392.3 505.5 394.1C509.1 395.9 510.5 402.2 509.8 405.9C509.1 409.7 504.4 414.2 501.2 416.7C498 419.2 492.3 420.3 490.5 421" stroke="#62d2d2" stroke-width="3.1" stroke-linecap="round" stroke-opacity="0.6"/>
<path d="M516.3 401.6C517.7 403.4 523.4 407.4 524.8 412.4C526.3 417.4 526.3 426.3 524.8 431.7C523.4 437.1 519.5 442.6 516.3 444.6C513 446.6 508 445.3 505.5 443.5C503 441.7 500.9 437.3 501.2 433.9C501.6 430.5 505.2 425.3 507.7 423.1C510.2 421 514.8 421.3 516.3 421" stroke="#125f63" stroke-width="12.5" stroke-linecap="round"/>
<path d="M516.3 401.6C517.7 403.4 523.4 407.4 524.8 412.4C526.3 417.4 526.3 426.3 524.8 431.7C523.4 437.1 519.5 442.6 516.3 444.6C513 446.6 508 445.3 505.5 443.5C503 441.7 500.9 437.3 501.2 433.9C501.6 430.5 505.2 425.3 507.7 423.1C510.2 421 514.8 421.3 516.3 421" stroke="#28a3a4" stroke-width="10.5" stroke-linecap="round"/>
<path d="M516.3 401.6C517.7 403.4 523.4 407.4 524.8 412.4C526.3 417.4 526.3 426.3 524.8 431.7C523.4 437.1 519.5 442.6 516.3 444.6C513 446.6 508 445.3 505.5 443.5C503 441.7 500.9 437.3 501.2 433.9C501.6 430.5 505.2 425.3 507.7 423.1C510.2 421 514.8 421.3 516.3 421" stroke="#62d2d2" stroke-width="3.3" stroke-linecap="round" stroke-opacity="0.6"/>
<path d="M529.1 421C531.3 421 538.5 419.2 542 421C545.6 422.8 549.6 427.1 550.6 431.7C551.7 436.4 550.6 444.6 548.5 448.9C546.3 453.2 540.8 457.1 537.7 457.5C534.7 457.9 531.5 452.1 530.2 451.1" stroke="#125f63" stroke-width="12.5" stroke-linecap="round"/>
<path d="M529.1 421C531.3 421 538.5 419.2 542 421C545.6 422.8 549.6 427.1 550.6 431.7C551.7 436.4 550.6 444.6 548.5 448.9C546.3 453.2 540.8 457.1 537.7 457.5C534.7 457.9 531.5 452.1 530.2 451.1" stroke="#28a3a4" stroke-width="10.5" stroke-linecap="round"/>
<path d="M529.1 421C531.3 421 538.5 419.2 542 421C545.6 422.8 549.6 427.1 550.6 431.7C551.7 436.4 550.6 444.6 548.5 448.9C546.3 453.2 540.8 457.1 537.7 457.5C534.7 457.9 531.5 452.1 530.2 451.1" stroke="#62d2d2" stroke-width="3.3" stroke-linecap="round" stroke-opacity="0.6"/>
<path d="M552.8 437.1C554.9 436.9 562.4 434 565.7 436C568.9 438 571 446.8 572.1 448.9" stroke="#125f63" stroke-width="5.3" stroke-linecap="round"/>
<path d="M552.8 437.1C554.9 436.9 562.4 434 565.7 436C568.9 438 571 446.8 572.1 448.9" stroke="#28a3a4" stroke-width="3.8" stroke-linecap="round"/>
<path d="M552.8 437.1C554.9 436.9 562.4 434 565.7 436C568.9 438 571 446.8 572.1 448.9" stroke="#62d2d2" stroke-width="1.2" stroke-linecap="round" stroke-opacity="0.6"/>
<path d="M423.6 469.6C425 468.8 428.5 465.6 432.3 464.4C436.1 463.2 442.7 462.4 446.2 462.7C449.7 462.9 454.7 464.4 453.2 466.1C451.8 467.9 442.2 472 437.5 473.1C432.9 474.3 427.6 473.7 425.3 473.1C423 472.5 423.9 470.2 423.6 469.6" stroke="#125f63" stroke-width="5.8" stroke-linecap="round"/>
<path d="M423.6 469.6C425 468.8 428.5 465.6 432.3 464.4C436.1 463.2 442.7 462.4 446.2 462.7C449.7 462.9 454.7 464.4 453.2 466.1C451.8 467.9 442.2 472 437.5 473.1C432.9 474.3 427.6 473.7 425.3 473.1C423 472.5 423.9 470.2 423.6 469.6" stroke="#28a3a4" stroke-width="4.3" stroke-linecap="round"/>
<path d="M423.6 469.6C425 468.8 428.5 465.6 432.3 464.4C436.1 463.2 442.7 462.4 446.2 462.7C449.7 462.9 454.7 464.4 453.2 466.1C451.8 467.9 442.2 472 437.5 473.1C432.9 474.3 427.6 473.7 425.3 473.1C423 472.5 423.9 470.2 423.6 469.6" stroke="#62d2d2" stroke-width="1.3" stroke-linecap="round" stroke-opacity="0.6"/>
<path d="M449.7 469.6C449.7 472.2 449.1 480.4 449.7 485.3C450.3 490.3 453.8 494.6 453.2 499.3C452.6 503.9 448.8 508.8 446.2 513.2C443.6 517.6 439 523.4 437.5 525.4" stroke="#125f63" stroke-width="5.8" stroke-linecap="round"/>
<path d="M449.7 469.6C449.7 472.2 449.1 480.4 449.7 485.3C450.3 490.3 453.8 494.6 453.2 499.3C452.6 503.9 448.8 508.8 446.2 513.2C443.6 517.6 439 523.4 437.5 525.4" stroke="#28a3a4" stroke-width="4.3" stroke-linecap="round"/>
<path d="M449.7 469.6C449.7 472.2 449.1 480.4 449.7 485.3C450.3 490.3 453.8 494.6 453.2 499.3C452.6 503.9 448.8 508.8 446.2 513.2C443.6 517.6 439 523.4 437.5 525.4" stroke="#62d2d2" stroke-width="1.3" stroke-linecap="round" stroke-opacity="0.6"/>
<path d="M453.2 466.1C455.5 468.5 463.1 475.7 467.1 480.1C471.2 484.4 473.5 489.1 477.6 492.3C481.7 495.5 487.5 499.3 491.5 499.3C495.6 499.3 499.4 495.5 502 492.3C504.6 489.1 507.8 483.9 507.2 480.1C506.7 476.3 502.6 471.7 498.5 469.6C494.5 467.6 486.9 467 482.8 467.9C478.8 468.8 475.3 471.1 474.1 474.9C473 478.6 474.8 487.3 475.9 490.5C476.9 493.7 479.5 493.4 480.2 494" stroke="#125f63" stroke-width="5.8" stroke-linecap="round"/>
<path d="M453.2 466.1C455.5 468.5 463.1 475.7 467.1 480.1C471.2 484.4 473.5 489.1 477.6 492.3C481.7 495.5 487.5 499.3 491.5 499.3C495.6 499.3 499.4 495.5 502 492.3C504.6 489.1 507.8 483.9 507.2 480.1C506.7 476.3 502.6 471.7 498.5 469.6C494.5 467.6 486.9 467 482.8 467.9C478.8 468.8 475.3 471.1 474.1 474.9C473 478.6 474.8 487.3 475.9 490.5C476.9 493.7 479.5 493.4 480.2 494" stroke="#28a3a4" stroke-width="4.3" stroke-linecap="round"/>
<path d="M453.2 466.1C455.5 468.5 463.1 475.7 467.1 480.1C471.2 484.4 473.5 489.1 477.6 492.3C481.7 495.5 487.5 499.3 491.5 499.3C495.6 499.3 499.4 495.5 502 492.3C504.6 489.1 507.8 483.9 507.2 480.1C506.7 476.3 502.6 471.7 498.5 469.6C494.5 467.6 486.9 467 482.8 467.9C478.8 468.8 475.3 471.1 474.1 474.9C473 478.6 474.8 487.3 475.9 490.5C476.9 493.7 479.5 493.4 480.2 494" stroke="#62d2d2" stroke-width="1.3" stroke-linecap="round" stroke-opacity="0.6"/>
<path d="M414.9 544.6C416.3 542.3 419.8 534.1 423.6 530.6C427.3 527.1 435.2 524.8 437.5 523.7" stroke="#125f63" stroke-width="5.8" stroke-linecap="round"/>
<path d="M414.9 544.6C416.3 542.3 419.8 534.1 423.6 530.6C427.3 527.1 435.2 524.8 437.5 523.7" stroke="#28a3a4" stroke-width="4.3" stroke-linecap="round"/>
<path d="M414.9 544.6C416.3 542.3 419.8 534.1 423.6 530.6C427.3 527.1 435.2 524.8 437.5 523.7" stroke="#62d2d2" stroke-width="1.3" stroke-linecap="round" stroke-opacity="0.6"/>
<path d="M482.8 514.9C484.6 516.4 490.7 519.9 493.3 523.7C495.9 527.4 497.6 535.3 498.5 537.6" stroke="#125f63" stroke-width="11.9" stroke-linecap="butt"/>
<path d="M482.8 514.9C484.6 516.4 490.7 519.9 493.3 523.7C495.9 527.4 497.6 535.3 498.5 537.6" stroke="#28a3a4" stroke-width="9.9" stroke-linecap="butt"/>
<path d="M482.8 514.9C484.6 516.4 490.7 519.9 493.3 523.7C495.9 527.4 497.6 535.3 498.5 537.6" stroke="#62d2d2" stroke-width="3.1" stroke-linecap="round" stroke-opacity="0.6"/>
<path d="M493.3 474.9C494.7 476.6 500.3 481.5 502 485.3C503.7 489.1 503.5 495.5 503.7 497.5" stroke="#125f63" stroke-width="10.8" stroke-linecap="butt"/>
<path d="M493.3 474.9C494.7 476.6 500.3 481.5 502 485.3C503.7 489.1 503.5 495.5 503.7 497.5" stroke="#28a3a4" stroke-width="8.8" stroke-linecap="butt"/>
<path d="M493.3 474.9C494.7 476.6 500.3 481.5 502 485.3C503.7 489.1 503.5 495.5 503.7 497.5" stroke="#62d2d2" stroke-width="2.8" stroke-linecap="round" stroke-opacity="0.6"/>
<path d="M449.7 555L461.9 546.3" stroke="#125f63" stroke-width="11.9" stroke-linecap="butt"/>
<path d="M449.7 555L461.9 546.3" stroke="#28a3a4" stroke-width="9.9" stroke-linecap="butt"/>
<path d="M449.7 555L461.9 546.3" stroke="#62d2d2" stroke-width="3.1" stroke-linecap="round" stroke-opacity="0.6"/>
<path d="M361.6 530.1C364.8 528.6 375.2 523.3 380.9 521.5C386.6 519.7 393.4 519.7 395.9 519.3" stroke="#125f63" stroke-width="5.8" stroke-linecap="round"/>
<path d="M361.6 530.1C364.8 528.6 375.2 523.3 380.9 521.5C386.6 519.7 393.4 519.7 395.9 519.3" stroke="#28a3a4" stroke-width="4.3" stroke-linecap="round"/>
<path d="M361.6 530.1C364.8 528.6 375.2 523.3 380.9 521.5C386.6 519.7 393.4 519.7 395.9 519.3" stroke="#62d2d2" stroke-width="1.3" stroke-linecap="round" stroke-opacity="0.6"/>
<path d="M411 558C414.2 559.1 424.9 562.7 430.3 564.5C435.7 566.2 438.2 567.3 443.2 568.8C448.2 570.2 454.7 569.1 460.4 573C466.1 577 469.3 585.9 477.6 592.4C485.8 598.8 504.4 608.5 509.8 611.7" stroke="#125f63" stroke-width="5.8" stroke-linecap="round"/>
<path d="M411 558C414.2 559.1 424.9 562.7 430.3 564.5C435.7 566.2 438.2 567.3 443.2 568.8C448.2 570.2 454.7 569.1 460.4 573C466.1 577 469.3 585.9 477.6 592.4C485.8 598.8 504.4 608.5 509.8 611.7" stroke="#28a3a4" stroke-width="4.3" stroke-linecap="round"/>
<path d="M411 558C414.2 559.1 424.9 562.7 430.3 564.5C435.7 566.2 438.2 567.3 443.2 568.8C448.2 570.2 454.7 569.1 460.4 573C466.1 577 469.3 585.9 477.6 592.4C485.8 598.8 504.4 608.5 509.8 611.7" stroke="#62d2d2" stroke-width="1.3" stroke-linecap="round" stroke-opacity="0.6"/>
<path d="M380.9 545.1C384.1 546.2 395.2 547.3 400.2 551.6C405.2 555.9 407 565.9 411 570.9C414.9 575.9 418.9 579.5 423.9 581.6C428.9 583.8 437.8 581.6 441.1 583.8C444.3 585.9 445 589.9 443.2 594.5C441.4 599.2 432.5 608.9 430.3 611.7" stroke="#125f63" stroke-width="5.8" stroke-linecap="round"/>
<path d="M380.9 545.1C384.1 546.2 395.2 547.3 400.2 551.6C405.2 555.9 407 565.9 411 570.9C414.9 575.9 418.9 579.5 423.9 581.6C428.9 583.8 437.8 581.6 441.1 583.8C444.3 585.9 445 589.9 443.2 594.5C441.4 599.2 432.5 608.9 430.3 611.7" stroke="#28a3a4" stroke-width="4.3" stroke-linecap="round"/>
<path d="M380.9 545.1C384.1 546.2 395.2 547.3 400.2 551.6C405.2 555.9 407 565.9 411 570.9C414.9 575.9 418.9 579.5 423.9 581.6C428.9 583.8 437.8 581.6 441.1 583.8C444.3 585.9 445 589.9 443.2 594.5C441.4 599.2 432.5 608.9 430.3 611.7" stroke="#62d2d2" stroke-width="1.3" stroke-linecap="round" stroke-opacity="0.6"/>
<path d="M361.6 562.3C360.5 568 355.1 585.9 355.1 596.7C355.1 607.4 357.3 617.8 361.6 626.8C365.9 635.7 374.1 645 380.9 650.4C387.7 655.8 395.6 657.6 402.4 659C409.2 660.4 415.6 657.6 421.7 659C427.8 660.4 432.5 666.5 438.9 667.6C445.4 668.7 456.8 665.8 460.4 665.4" stroke="#125f63" stroke-width="5.8" stroke-linecap="round"/>
<path d="M361.6 562.3C360.5 568 355.1 585.9 355.1 596.7C355.1 607.4 357.3 617.8 361.6 626.8C365.9 635.7 374.1 645 380.9 650.4C387.7 655.8 395.6 657.6 402.4 659C409.2 660.4 415.6 657.6 421.7 659C427.8 660.4 432.5 666.5 438.9 667.6C445.4 668.7 456.8 665.8 460.4 665.4" stroke="#28a3a4" stroke-width="4.3" stroke-linecap="round"/>
<path d="M361.6 562.3C360.5 568 355.1 585.9 355.1 596.7C355.1 607.4 357.3 617.8 361.6 626.8C365.9 635.7 374.1 645 380.9 650.4C387.7 655.8 395.6 657.6 402.4 659C409.2 660.4 415.6 657.6 421.7 659C427.8 660.4 432.5 666.5 438.9 667.6C445.4 668.7 456.8 665.8 460.4 665.4" stroke="#62d2d2" stroke-width="1.3" stroke-linecap="round" stroke-opacity="0.6"/>
<path d="M488.3 659C490.8 657.6 498.7 650.4 503.4 650.4C508 650.4 514.1 655.4 516.3 659C518.4 662.6 518.4 666.1 516.3 671.9C514.1 677.6 505.5 691.8 503.4 693.4C501.2 695 502.6 680.6 503.4 681.5C504.1 682.4 504.1 698 507.7 698.7C511.2 699.4 519.1 690.8 524.8 685.8C530.6 680.8 539.2 671.5 542 668.6" stroke="#125f63" stroke-width="5.8" stroke-linecap="round"/>
<path d="M488.3 659C490.8 657.6 498.7 650.4 503.4 650.4C508 650.4 514.1 655.4 516.3 659C518.4 662.6 518.4 666.1 516.3 671.9C514.1 677.6 505.5 691.8 503.4 693.4C501.2 695 502.6 680.6 503.4 681.5C504.1 682.4 504.1 698 507.7 698.7C511.2 699.4 519.1 690.8 524.8 685.8C530.6 680.8 539.2 671.5 542 668.6" stroke="#28a3a4" stroke-width="4.3" stroke-linecap="round"/>
<path d="M488.3 659C490.8 657.6 498.7 650.4 503.4 650.4C508 650.4 514.1 655.4 516.3 659C518.4 662.6 518.4 666.1 516.3 671.9C514.1 677.6 505.5 691.8 503.4 693.4C501.2 695 502.6 680.6 503.4 681.5C504.1 682.4 504.1 698 507.7 698.7C511.2 699.4 519.1 690.8 524.8 685.8C530.6 680.8 539.2 671.5 542 668.6" stroke="#62d2d2" stroke-width="1.3" stroke-linecap="round" stroke-opacity="0.6"/>
<path d="M570 585.9C566 594.9 549.9 626.8 546.3 639.6C542.7 652.5 548.1 659.3 548.5 663.3" stroke="#125f63" stroke-width="5.3" stroke-linecap="round"/>
<path d="M570 585.9C566 594.9 549.9 626.8 546.3 639.6C542.7 652.5 548.1 659.3 548.5 663.3" stroke="#28a3a4" stroke-width="3.8" stroke-linecap="round"/>
<path d="M570 585.9C566 594.9 549.9 626.8 546.3 639.6C542.7 652.5 548.1 659.3 548.5 663.3" stroke="#62d2d2" stroke-width="1.2" stroke-linecap="round" stroke-opacity="0.6"/>
<path d="M570 585.9C571 587.4 571.8 594.5 576.4 594.5C581.1 594.5 594.3 591.7 597.9 585.9C601.5 580.2 597.9 564.5 597.9 560.2" stroke="#125f63" stroke-width="5.3" stroke-linecap="round"/>
<path d="M570 585.9C571 587.4 571.8 594.5 576.4 594.5C581.1 594.5 594.3 591.7 597.9 585.9C601.5 580.2 597.9 564.5 597.9 560.2" stroke="#28a3a4" stroke-width="3.8" stroke-linecap="round"/>
<path d="M570 585.9C571 587.4 571.8 594.5 576.4 594.5C581.1 594.5 594.3 591.7 597.9 585.9C601.5 580.2 597.9 564.5 597.9 560.2" stroke="#62d2d2" stroke-width="1.2" stroke-linecap="round" stroke-opacity="0.6"/>
<path d="M479.7 500C478.7 502.9 480.1 511.8 473.3 517.2C466.5 522.6 444.6 529.7 438.9 532.2" stroke="#125f63" stroke-width="16.6" stroke-linecap="butt"/>
<path d="M479.7 500C478.7 502.9 480.1 511.8 473.3 517.2C466.5 522.6 444.6 529.7 438.9 532.2" stroke="#28a3a4" stroke-width="14.5" stroke-linecap="butt"/>
<path d="M479.7 500C478.7 502.9 480.1 511.8 473.3 517.2C466.5 522.6 444.6 529.7 438.9 532.2" stroke="#62d2d2" stroke-width="4.5" stroke-linecap="round" stroke-opacity="0.6"/>
<path d="M434.6 536.5L443.2 564.5" stroke="#125f63" stroke-width="15.4" stroke-linecap="butt"/>
<path d="M434.6 536.5L443.2 564.5" stroke="#28a3a4" stroke-width="13.4" stroke-linecap="butt"/>
<path d="M434.6 536.5L443.2 564.5" stroke="#62d2d2" stroke-width="4.1" stroke-linecap="round" stroke-opacity="0.6"/>
<path d="M469 564.5L479.7 585.9" stroke="#125f63" stroke-width="13.1" stroke-linecap="butt"/>
<path d="M469 564.5L479.7 585.9" stroke="#28a3a4" stroke-width="11.1" stroke-linecap="butt"/>
<path d="M469 564.5L479.7 585.9" stroke="#62d2d2" stroke-width="3.4" stroke-linecap="round" stroke-opacity="0.6"/>
<path d="M464.7 553.7C464.3 551.6 460.4 544.8 462.5 540.8C464.7 536.9 472.2 530.8 477.6 530.1C483 529.4 491.5 533.3 494.8 536.5C498 539.7 499.1 545.5 496.9 549.4C494.8 553.4 486.5 559.1 481.9 560.2C477.2 561.2 471.1 556.6 469 555.9" stroke="#125f63" stroke-width="13.1" stroke-linecap="round"/>
<path d="M464.7 553.7C464.3 551.6 460.4 544.8 462.5 540.8C464.7 536.9 472.2 530.8 477.6 530.1C483 529.4 491.5 533.3 494.8 536.5C498 539.7 499.1 545.5 496.9 549.4C494.8 553.4 486.5 559.1 481.9 560.2C477.2 561.2 471.1 556.6 469 555.9" stroke="#28a3a4" stroke-width="11.1" stroke-linecap="round"/>
<path d="M464.7 553.7C464.3 551.6 460.4 544.8 462.5 540.8C464.7 536.9 472.2 530.8 477.6 530.1C483 529.4 491.5 533.3 494.8 536.5C498 539.7 499.1 545.5 496.9 549.4C494.8 553.4 486.5 559.1 481.9 560.2C477.2 561.2 471.1 556.6 469 555.9" stroke="#62d2d2" stroke-width="3.4" stroke-linecap="round" stroke-opacity="0.6"/>
<path d="M499.1 543C501.2 545.1 511.2 550.8 512 555.9C512.7 560.9 504.8 570.2 503.4 573" stroke="#125f63" stroke-width="13.1" stroke-linecap="butt"/>
<path d="M499.1 543C501.2 545.1 511.2 550.8 512 555.9C512.7 560.9 504.8 570.2 503.4 573" stroke="#28a3a4" stroke-width="11.1" stroke-linecap="butt"/>
<path d="M499.1 543C501.2 545.1 511.2 550.8 512 555.9C512.7 560.9 504.8 570.2 503.4 573" stroke="#62d2d2" stroke-width="3.4" stroke-linecap="round" stroke-opacity="0.6"/>
<path d="M486.2 570.9C487.6 569.8 491.5 564.5 494.8 564.5C498 564.5 503.7 569.8 505.5 570.9" stroke="#54402f" stroke-width="15.4" stroke-linecap="round"/>
<path d="M486.2 570.9C487.6 569.8 491.5 564.5 494.8 564.5C498 564.5 503.7 569.8 505.5 570.9" stroke="#94745f" stroke-width="13.4" stroke-linecap="round"/>
<path d="M486.2 570.9C487.6 569.8 491.5 564.5 494.8 564.5C498 564.5 503.7 569.8 505.5 570.9" stroke="#bfa28e" stroke-width="4.1" stroke-linecap="round" stroke-opacity="0.6"/>
<path d="M587.9 558.1C589.7 559.7 597.9 563.7 598.7 567.7C599.5 571.7 595.7 578 592.7 582C589.7 586 583.9 589.6 580.7 591.6C577.5 593.6 574.7 593.6 573.5 594" stroke="#125f63" stroke-width="5.3" stroke-linecap="round"/>
<path d="M587.9 558.1C589.7 559.7 597.9 563.7 598.7 567.7C599.5 571.7 595.7 578 592.7 582C589.7 586 583.9 589.6 580.7 591.6C577.5 593.6 574.7 593.6 573.5 594" stroke="#28a3a4" stroke-width="3.8" stroke-linecap="round"/>
<path d="M587.9 558.1C589.7 559.7 597.9 563.7 598.7 567.7C599.5 571.7 595.7 578 592.7 582C589.7 586 583.9 589.6 580.7 591.6C577.5 593.6 574.7 593.6 573.5 594" stroke="#62d2d2" stroke-width="1.2" stroke-linecap="round" stroke-opacity="0.6"/>
<path d="M582 446L582.4 445.3L584.1 444.8L587.1 444.6L591.2 444.9L596.1 445.6L601.5 447L607.1 449L612.5 451.5L617.3 454.6L621.2 458.2L623.8 462L625 466" stroke="#125f63" stroke-width="11.6" stroke-linecap="round"/>
<path d="M582 446L582.4 445.3L584.1 444.8L587.1 444.6L591.2 444.9L596.1 445.6L601.5 447L607.1 449L612.5 451.5L617.3 454.6L621.2 458.2L623.8 462L625 466" stroke="#218f90" stroke-width="9.6" stroke-linecap="round"/>
<path d="M576 486L576.7 485L579.1 484.1L583.1 483.5L588.2 483.4L594 483.8L600.2 484.8L606.3 486.3L611.8 488.5L616.4 491.3L619.6 494.4L621.4 497.9L621.5 501.5" stroke="#125f63" stroke-width="11.6" stroke-linecap="round"/>
<path d="M576 486L576.7 485L579.1 484.1L583.1 483.5L588.2 483.4L594 483.8L600.2 484.8L606.3 486.3L611.8 488.5L616.4 491.3L619.6 494.4L621.4 497.9L621.5 501.5" stroke="#218f90" stroke-width="9.6" stroke-linecap="round"/>
<path d="M571 517L571.6 515.9L573.5 514.9L576.6 514.3L580.6 514L585.2 514.3L590 515.2L594.7 516.8L598.9 518.9L602.4 521.5L604.9 524.6L606.2 528L606.2 531.5" stroke="#125f63" stroke-width="11.6" stroke-linecap="round"/>
<path d="M571 517L571.6 515.9L573.5 514.9L576.6 514.3L580.6 514L585.2 514.3L590 515.2L594.7 516.8L598.9 518.9L602.4 521.5L604.9 524.6L606.2 528L606.2 531.5" stroke="#218f90" stroke-width="9.6" stroke-linecap="round"/>
<path d="M568.5 546L569 544.3L570.5 542.7L572.8 541.4L575.9 540.5L579.3 540.2L583 540.5L586.6 541.4L589.8 542.9L592.5 544.9L594.5 547.3L595.6 550.1L595.8 553" stroke="#125f63" stroke-width="11.6" stroke-linecap="round"/>
<path d="M568.5 546L569 544.3L570.5 542.7L572.8 541.4L575.9 540.5L579.3 540.2L583 540.5L586.6 541.4L589.8 542.9L592.5 544.9L594.5 547.3L595.6 550.1L595.8 553" stroke="#218f90" stroke-width="9.6" stroke-linecap="round"/>
<path d="M613.9 433.5L611.8 437.1L608.7 440.3L605 442.9L600.7 444.9L596.3 446.3L592 447.1L588.1 447.4L585 447.2L582.9 446.7L582 446" stroke="#125f63" stroke-width="11.6" stroke-linecap="round"/>
<path d="M613.9 433.5L611.8 437.1L608.7 440.3L605 442.9L600.7 444.9L596.3 446.3L592 447.1L588.1 447.4L585 447.2L582.9 446.7L582 446" stroke="#28a3a4" stroke-width="9.6" stroke-linecap="round"/>
<path d="M613.9 433.5L611.8 437.1L608.7 440.3L605 442.9L600.7 444.9L596.3 446.3L592 447.1L588.1 447.4L585 447.2L582.9 446.7L582 446" stroke="#62d2d2" stroke-width="3" stroke-linecap="round" stroke-opacity="0.6"/>
<path d="M625 466L624.6 470L622.7 473.8L619.2 477.4L614.5 480.5L608.8 483L602.5 485L596 486.4L589.8 487.1L584.4 487.4L580 487.2L577.2 486.7L576 486" stroke="#125f63" stroke-width="11.6" stroke-linecap="round"/>
<path d="M625 466L624.6 470L622.7 473.8L619.2 477.4L614.5 480.5L608.8 483L602.5 485L596 486.4L589.8 487.1L584.4 487.4L580 487.2L577.2 486.7L576 486" stroke="#28a3a4" stroke-width="9.6" stroke-linecap="round"/>
<path d="M625 466L624.6 470L622.7 473.8L619.2 477.4L614.5 480.5L608.8 483L602.5 485L596 486.4L589.8 487.1L584.4 487.4L580 487.2L577.2 486.7L576 486" stroke="#62d2d2" stroke-width="3" stroke-linecap="round" stroke-opacity="0.6"/>
<path d="M621.5 501.5L620 505.1L616.9 508.6L612.6 511.7L607.2 514.5L601.1 516.7L594.8 518.2L588.5 519.2L582.8 519.6L578 519.5L574.3 518.9L571.9 518L571 517" stroke="#125f63" stroke-width="11.6" stroke-linecap="round"/>
<path d="M621.5 501.5L620 505.1L616.9 508.6L612.6 511.7L607.2 514.5L601.1 516.7L594.8 518.2L588.5 519.2L582.8 519.6L578 519.5L574.3 518.9L571.9 518L571 517" stroke="#28a3a4" stroke-width="9.6" stroke-linecap="round"/>
<path d="M621.5 501.5L620 505.1L616.9 508.6L612.6 511.7L607.2 514.5L601.1 516.7L594.8 518.2L588.5 519.2L582.8 519.6L578 519.5L574.3 518.9L571.9 518L571 517" stroke="#62d2d2" stroke-width="3" stroke-linecap="round" stroke-opacity="0.6"/>
<path d="M606.2 531.5L605.1 535L602.7 538.4L599.4 541.5L595.3 544.1L590.8 546.2L586 547.8L581.4 548.7L577.1 549L573.6 548.7L570.8 548.1L569.1 547.1L568.5 546" stroke="#125f63" stroke-width="11.6" stroke-linecap="round"/>
<path d="M606.2 531.5L605.1 535L602.7 538.4L599.4 541.5L595.3 544.1L590.8 546.2L586 547.8L581.4 548.7L577.1 549L573.6 548.7L570.8 548.1L569.1 547.1L568.5 546" stroke="#28a3a4" stroke-width="9.6" stroke-linecap="round"/>
<path d="M606.2 531.5L605.1 535L602.7 538.4L599.4 541.5L595.3 544.1L590.8 546.2L586 547.8L581.4 548.7L577.1 549L573.6 548.7L570.8 548.1L569.1 547.1L568.5 546" stroke="#62d2d2" stroke-width="3" stroke-linecap="round" stroke-opacity="0.6"/>
<path d="M595.8 553L595.4 554.8L594.7 556.5L593.7 558.1L592.4 559.7" stroke="#125f63" stroke-width="11.6" stroke-linecap="round"/>
<path d="M595.8 553L595.4 554.8L594.7 556.5L593.7 558.1L592.4 559.7" stroke="#28a3a4" stroke-width="9.6" stroke-linecap="round"/>
<path d="M595.8 553L595.4 554.8L594.7 556.5L593.7 558.1L592.4 559.7" stroke="#62d2d2" stroke-width="3" stroke-linecap="round" stroke-opacity="0.6"/>
<path d="M601.1 407.2C600.9 410.8 599.5 422 599.9 428.7C600.3 435.5 602.9 444.7 603.5 447.9" stroke="#125f63" stroke-width="4.8" stroke-linecap="round"/>
<path d="M601.1 407.2C600.9 410.8 599.5 422 599.9 428.7C600.3 435.5 602.9 444.7 603.5 447.9" stroke="#28a3a4" stroke-width="3.3" stroke-linecap="round"/>
<path d="M601.1 407.2C600.9 410.8 599.5 422 599.9 428.7C600.3 435.5 602.9 444.7 603.5 447.9" stroke="#62d2d2" stroke-width="1.1" stroke-linecap="round" stroke-opacity="0.6"/>
<path d="M571.1 584.4C572.7 579.2 577.3 564.9 580.7 553.3C584.1 541.7 588.3 526.5 591.5 515C594.7 503.4 598.5 489 599.9 483.8" stroke="#2a959b" stroke-width="13.1" stroke-linecap="butt"/>
<path d="M571.1 584.4C572.7 579.2 577.3 564.9 580.7 553.3C584.1 541.7 588.3 526.5 591.5 515C594.7 503.4 598.5 489 599.9 483.8" stroke="#84ecee" stroke-width="11.1" stroke-linecap="butt"/>
<path d="M571.1 584.4C572.7 579.2 577.3 564.9 580.7 553.3C584.1 541.7 588.3 526.5 591.5 515C594.7 503.4 598.5 489 599.9 483.8" stroke="#e6fefe" stroke-width="3.4" stroke-linecap="round" stroke-opacity="0.6"/>
<path d="M613.6 486.5L605.1 457L586.1 481.1Z" fill="#84ecee" stroke="#2a959b" stroke-width="1.2" stroke-linejoin="round"/>
<path d="M599.9 483.8L602.8 469.1" stroke="#e6fefe" stroke-width="3.5" stroke-linecap="round" stroke-opacity="0.7"/>
<path d="M398.1 512.9C400.2 513.2 409.5 508.2 411 515C412.4 521.8 407.4 547.3 406.7 553.7" stroke="#1a838a" stroke-width="16.6" stroke-linecap="butt"/>
<path d="M398.1 512.9C400.2 513.2 409.5 508.2 411 515C412.4 521.8 407.4 547.3 406.7 553.7" stroke="#3dd5da" stroke-width="14.5" stroke-linecap="butt"/>
<path d="M398.1 512.9C400.2 513.2 409.5 508.2 411 515C412.4 521.8 407.4 547.3 406.7 553.7" stroke="#aaf5f7" stroke-width="4.5" stroke-linecap="round" stroke-opacity="0.6"/>
<path d="M359.3 563.2C360.6 561.2 362.9 553.8 367.1 551C371.4 548.2 378.8 546.2 384.6 546.6C390.4 547.1 397.1 550.6 402 553.6C406.9 556.7 409.8 561 414.2 564.9C418.6 568.9 423.8 574.1 428.1 577.1C432.4 580.2 438 582.2 440 583.2" stroke="#125f63" stroke-width="5.8" stroke-linecap="round"/>
<path d="M359.3 563.2C360.6 561.2 362.9 553.8 367.1 551C371.4 548.2 378.8 546.2 384.6 546.6C390.4 547.1 397.1 550.6 402 553.6C406.9 556.7 409.8 561 414.2 564.9C418.6 568.9 423.8 574.1 428.1 577.1C432.4 580.2 438 582.2 440 583.2" stroke="#28a3a4" stroke-width="4.3" stroke-linecap="round"/>
<path d="M359.3 563.2C360.6 561.2 362.9 553.8 367.1 551C371.4 548.2 378.8 546.2 384.6 546.6C390.4 547.1 397.1 550.6 402 553.6C406.9 556.7 409.8 561 414.2 564.9C418.6 568.9 423.8 574.1 428.1 577.1C432.4 580.2 438 582.2 440 583.2" stroke="#62d2d2" stroke-width="1.3" stroke-linecap="round" stroke-opacity="0.6"/>
<path d="M354.9 612C355.2 608.5 354.1 597.5 356.7 591.1C359.3 584.7 364.8 577 370.6 573.7C376.4 570.3 385.9 569.6 391.5 571C397.2 572.5 403.2 578.5 404.6 582.4C406.1 586.3 403.9 591.8 400.3 594.6C396.6 597.3 388.4 599.7 382.8 598.9C377.3 598.2 369.8 591.7 367.1 590.2" stroke="#1a838a" stroke-width="13.1" stroke-linecap="round"/>
<path d="M354.9 612C355.2 608.5 354.1 597.5 356.7 591.1C359.3 584.7 364.8 577 370.6 573.7C376.4 570.3 385.9 569.6 391.5 571C397.2 572.5 403.2 578.5 404.6 582.4C406.1 586.3 403.9 591.8 400.3 594.6C396.6 597.3 388.4 599.7 382.8 598.9C377.3 598.2 369.8 591.7 367.1 590.2" stroke="#3dd5da" stroke-width="11.1" stroke-linecap="round"/>
<path d="M354.9 612C355.2 608.5 354.1 597.5 356.7 591.1C359.3 584.7 364.8 577 370.6 573.7C376.4 570.3 385.9 569.6 391.5 571C397.2 572.5 403.2 578.5 404.6 582.4C406.1 586.3 403.9 591.8 400.3 594.6C396.6 597.3 388.4 599.7 382.8 598.9C377.3 598.2 369.8 591.7 367.1 590.2" stroke="#aaf5f7" stroke-width="3.4" stroke-linecap="round" stroke-opacity="0.6"/>
<path d="M353 648.2L404.5 620.3" stroke="#1a838a" stroke-width="13.1" stroke-linecap="butt"/>
<path d="M353 648.2L404.5 620.3" stroke="#3dd5da" stroke-width="11.1" stroke-linecap="butt"/>
<path d="M353 648.2L404.5 620.3" stroke="#aaf5f7" stroke-width="3.4" stroke-linecap="round" stroke-opacity="0.6"/>
<path d="M409.1 631.4L430.3 609.6L399.9 609.2Z" fill="#3dd5da" stroke="#1a838a" stroke-width="1.2" stroke-linejoin="round"/>
<path d="M404.5 620.3L418.7 614.4" stroke="#aaf5f7" stroke-width="3.5" stroke-linecap="round" stroke-opacity="0.7"/>
<path d="M456.1 659L488.3 660.1L473.3 678.3Z" fill="#3dd5da" stroke="#1a838a" stroke-width="1.2" stroke-linejoin="round"/>
<path d="M310 743.8L318.6 722.3" stroke="#0e6612" stroke-width="5.8" stroke-linecap="round"/>
<path d="M310 743.8L318.6 722.3" stroke="#23b223" stroke-width="4.3" stroke-linecap="round"/>
<path d="M310 743.8L318.6 722.3" stroke="#66e066" stroke-width="1.3" stroke-linecap="round" stroke-opacity="0.6"/>
<path d="M342.2 761C343.7 759.5 344.4 755.6 350.8 752.4C357.3 749.2 375.9 743.4 380.9 741.6" stroke="#0e6612" stroke-width="5.8" stroke-linecap="round"/>
<path d="M342.2 761C343.7 759.5 344.4 755.6 350.8 752.4C357.3 749.2 375.9 743.4 380.9 741.6" stroke="#23b223" stroke-width="4.3" stroke-linecap="round"/>
<path d="M342.2 761C343.7 759.5 344.4 755.6 350.8 752.4C357.3 749.2 375.9 743.4 380.9 741.6" stroke="#66e066" stroke-width="1.3" stroke-linecap="round" stroke-opacity="0.6"/>
<path d="M331.5 551.6C331.5 553.7 330.4 558.7 331.5 564.5C332.6 570.2 336.9 579.9 337.9 585.9C339 592 337.9 598.5 337.9 601" stroke="#8f4023" stroke-width="5.8" stroke-linecap="round"/>
<path d="M331.5 551.6C331.5 553.7 330.4 558.7 331.5 564.5C332.6 570.2 336.9 579.9 337.9 585.9C339 592 337.9 598.5 337.9 601" stroke="#ea8054" stroke-width="4.3" stroke-linecap="round"/>
<path d="M331.5 551.6C331.5 553.7 330.4 558.7 331.5 564.5C332.6 570.2 336.9 579.9 337.9 585.9C339 592 337.9 598.5 337.9 601" stroke="#ffb696" stroke-width="1.3" stroke-linecap="round" stroke-opacity="0.6"/>
<path d="M314.3 667.6C316.8 661.1 325.8 637.1 329.3 628.9C332.9 620.7 334.7 620 335.8 618.2" stroke="#8f4023" stroke-width="13.1" stroke-linecap="butt"/>
<path d="M314.3 667.6C316.8 661.1 325.8 637.1 329.3 628.9C332.9 620.7 334.7 620 335.8 618.2" stroke="#ea8054" stroke-width="11.1" stroke-linecap="butt"/>
<path d="M314.3 667.6C316.8 661.1 325.8 637.1 329.3 628.9C332.9 620.7 334.7 620 335.8 618.2" stroke="#ffb696" stroke-width="3.4" stroke-linecap="round" stroke-opacity="0.6"/>
<path d="M346.7 619.5L337.9 601L324.9 616.8Z" fill="#ea8054" stroke="#8f4023" stroke-width="1.2" stroke-linejoin="round"/>
<path d="M335.8 618.2L337 608.7" stroke="#ffb696" stroke-width="3.5" stroke-linecap="round" stroke-opacity="0.7"/>
<path d="M353 637.5L374.5 603.1" stroke="#8f4023" stroke-width="11.9" stroke-linecap="butt"/>
<path d="M353 637.5L374.5 603.1" stroke="#ea8054" stroke-width="9.9" stroke-linecap="butt"/>
<path d="M353 637.5L374.5 603.1" stroke="#ffb696" stroke-width="3.1" stroke-linecap="round" stroke-opacity="0.6"/>
<path d="M337.9 659C345.1 657.6 363.4 653.3 380.9 650.4C398.4 647.5 432.8 643.2 443.2 641.8" stroke="#8f4023" stroke-width="14.2" stroke-linecap="butt"/>
<path d="M337.9 659C345.1 657.6 363.4 653.3 380.9 650.4C398.4 647.5 432.8 643.2 443.2 641.8" stroke="#ea8054" stroke-width="12.2" stroke-linecap="butt"/>
<path d="M337.9 659C345.1 657.6 363.4 653.3 380.9 650.4C398.4 647.5 432.8 643.2 443.2 641.8" stroke="#ffb696" stroke-width="3.8" stroke-linecap="round" stroke-opacity="0.6"/>
<path d="M445.4 653.6L466.8 637.5L441.1 630Z" fill="#ea8054" stroke="#8f4023" stroke-width="1.2" stroke-linejoin="round"/>
<path d="M443.2 641.8L456.2 639.4" stroke="#ffb696" stroke-width="3.8" stroke-linecap="round" stroke-opacity="0.7"/>
<path d="M460.4 618.2C461.1 621.4 461.8 632.1 464.7 637.5C467.6 642.9 476.9 646.8 477.6 650.4C478.3 654 470.4 657.6 469 659" stroke="#8f4023" stroke-width="5.8" stroke-linecap="round"/>
<path d="M460.4 618.2C461.1 621.4 461.8 632.1 464.7 637.5C467.6 642.9 476.9 646.8 477.6 650.4C478.3 654 470.4 657.6 469 659" stroke="#ea8054" stroke-width="4.3" stroke-linecap="round"/>
<path d="M460.4 618.2C461.1 621.4 461.8 632.1 464.7 637.5C467.6 642.9 476.9 646.8 477.6 650.4C478.3 654 470.4 657.6 469 659" stroke="#ffb696" stroke-width="1.3" stroke-linecap="round" stroke-opacity="0.6"/>
<path d="M464.7 633.2L499.1 632.1" stroke="#7c6848" stroke-width="5.3" stroke-linecap="round"/>
<path d="M464.7 633.2L499.1 632.1" stroke="#d8bc94" stroke-width="3.8" stroke-linecap="round"/>
<path d="M464.7 633.2L499.1 632.1" stroke="#f3e3c8" stroke-width="1.2" stroke-linecap="round" stroke-opacity="0.6"/>
<path d="M331.5 659C333.3 661.1 335.1 668.7 342.2 671.9C349.4 675.1 368 674.7 374.5 678.3C380.9 681.9 379.8 690.9 380.9 693.4" stroke="#8f4023" stroke-width="13.3" stroke-linecap="butt"/>
<path d="M331.5 659C333.3 661.1 335.1 668.7 342.2 671.9C349.4 675.1 368 674.7 374.5 678.3C380.9 681.9 379.8 690.9 380.9 693.4" stroke="#ea8054" stroke-width="11.3" stroke-linecap="butt"/>
<path d="M331.5 659C333.3 661.1 335.1 668.7 342.2 671.9C349.4 675.1 368 674.7 374.5 678.3C380.9 681.9 379.8 690.9 380.9 693.4" stroke="#ffb696" stroke-width="3.5" stroke-linecap="round" stroke-opacity="0.6"/>
<path d="M402.4 697C404.2 694.3 407 685 413.1 680.5C419.2 675.9 434.6 671.5 438.9 669.7" stroke="#8f4023" stroke-width="12.3" stroke-linecap="butt"/>
<path d="M402.4 697C404.2 694.3 407 685 413.1 680.5C419.2 675.9 434.6 671.5 438.9 669.7" stroke="#ea8054" stroke-width="10.3" stroke-linecap="butt"/>
<path d="M402.4 697C404.2 694.3 407 685 413.1 680.5C419.2 675.9 434.6 671.5 438.9 669.7" stroke="#ffb696" stroke-width="3.2" stroke-linecap="round" stroke-opacity="0.6"/>
<path d="M331.5 660C332.2 663.6 332.2 675.4 335.8 681.5C339.4 687.6 353.7 692.6 353 696.5C352.3 700.5 337.9 702.3 331.5 705.1C325 708 314.3 707.6 314.3 713.7C314.3 719.8 325 734.1 331.5 741.6C337.9 749.2 349.4 756 353 758.8" stroke="#8f4023" stroke-width="5.8" stroke-linecap="round"/>
<path d="M331.5 660C332.2 663.6 332.2 675.4 335.8 681.5C339.4 687.6 353.7 692.6 353 696.5C352.3 700.5 337.9 702.3 331.5 705.1C325 708 314.3 707.6 314.3 713.7C314.3 719.8 325 734.1 331.5 741.6C337.9 749.2 349.4 756 353 758.8" stroke="#ea8054" stroke-width="4.3" stroke-linecap="round"/>
<path d="M331.5 660C332.2 663.6 332.2 675.4 335.8 681.5C339.4 687.6 353.7 692.6 353 696.5C352.3 700.5 337.9 702.3 331.5 705.1C325 708 314.3 707.6 314.3 713.7C314.3 719.8 325 734.1 331.5 741.6C337.9 749.2 349.4 756 353 758.8" stroke="#ffb696" stroke-width="1.3" stroke-linecap="round" stroke-opacity="0.6"/>
<path d="M380.9 683.6C379.8 686.1 380.2 694.4 374.5 698.7C368.7 703 351.2 707.6 346.5 709.4" stroke="#7c6848" stroke-width="15.4" stroke-linecap="butt"/>
<path d="M380.9 683.6C379.8 686.1 380.2 694.4 374.5 698.7C368.7 703 351.2 707.6 346.5 709.4" stroke="#d8bc94" stroke-width="13.4" stroke-linecap="butt"/>
<path d="M380.9 683.6C379.8 686.1 380.2 694.4 374.5 698.7C368.7 703 351.2 707.6 346.5 709.4" stroke="#f3e3c8" stroke-width="4.1" stroke-linecap="round" stroke-opacity="0.6"/>
<path d="M342.2 660C342.9 662.1 341.9 670 346.5 672.9C351.2 675.8 364.4 675.4 370.2 677.2C375.9 679 379.1 682.6 380.9 683.6" stroke="#8f4023" stroke-width="13.3" stroke-linecap="butt"/>
<path d="M342.2 660C342.9 662.1 341.9 670 346.5 672.9C351.2 675.8 364.4 675.4 370.2 677.2C375.9 679 379.1 682.6 380.9 683.6" stroke="#ea8054" stroke-width="11.3" stroke-linecap="butt"/>
<path d="M342.2 660C342.9 662.1 341.9 670 346.5 672.9C351.2 675.8 364.4 675.4 370.2 677.2C375.9 679 379.1 682.6 380.9 683.6" stroke="#ffb696" stroke-width="3.5" stroke-linecap="round" stroke-opacity="0.6"/>
<path d="M365.9 726.6L380.9 728.8" stroke="#8f4023" stroke-width="11.4" stroke-linecap="butt"/>
<path d="M365.9 726.6L380.9 728.8" stroke="#ea8054" stroke-width="9.4" stroke-linecap="butt"/>
<path d="M365.9 726.6L380.9 728.8" stroke="#ffb696" stroke-width="2.9" stroke-linecap="round" stroke-opacity="0.6"/>
<path d="M346.5 745.9C347.2 742 346.9 728 350.8 722.3C354.8 716.6 363.4 711.6 370.2 711.6C377 711.6 386.6 717.3 391.6 722.3C396.7 727.3 400.2 736.6 400.2 741.6C400.2 746.7 394.5 752 391.6 752.4C388.8 752.7 384.8 747.4 383 743.8C381.3 740.2 381.3 733 380.9 730.9" stroke="#8f4023" stroke-width="13.3" stroke-linecap="round"/>
<path d="M346.5 745.9C347.2 742 346.9 728 350.8 722.3C354.8 716.6 363.4 711.6 370.2 711.6C377 711.6 386.6 717.3 391.6 722.3C396.7 727.3 400.2 736.6 400.2 741.6C400.2 746.7 394.5 752 391.6 752.4C388.8 752.7 384.8 747.4 383 743.8C381.3 740.2 381.3 733 380.9 730.9" stroke="#ea8054" stroke-width="11.3" stroke-linecap="round"/>
<path d="M346.5 745.9C347.2 742 346.9 728 350.8 722.3C354.8 716.6 363.4 711.6 370.2 711.6C377 711.6 386.6 717.3 391.6 722.3C396.7 727.3 400.2 736.6 400.2 741.6C400.2 746.7 394.5 752 391.6 752.4C388.8 752.7 384.8 747.4 383 743.8C381.3 740.2 381.3 733 380.9 730.9" stroke="#ffb696" stroke-width="3.5" stroke-linecap="round" stroke-opacity="0.6"/>
<path d="M376.6 709.4C379.8 707.3 389.1 698.3 395.9 696.5C402.7 694.7 412.4 696.2 417.4 698.7C422.4 701.2 425.7 708.7 426 711.6C426.4 714.4 420.6 715.1 419.6 715.9" stroke="#8f4023" stroke-width="12.3" stroke-linecap="round"/>
<path d="M376.6 709.4C379.8 707.3 389.1 698.3 395.9 696.5C402.7 694.7 412.4 696.2 417.4 698.7C422.4 701.2 425.7 708.7 426 711.6C426.4 714.4 420.6 715.1 419.6 715.9" stroke="#ea8054" stroke-width="10.3" stroke-linecap="round"/>
<path d="M376.6 709.4C379.8 707.3 389.1 698.3 395.9 696.5C402.7 694.7 412.4 696.2 417.4 698.7C422.4 701.2 425.7 708.7 426 711.6C426.4 714.4 420.6 715.1 419.6 715.9" stroke="#ffb696" stroke-width="3.2" stroke-linecap="round" stroke-opacity="0.6"/>
<path d="M402.4 690.1C403.8 687.6 407 678.6 411 675C414.9 671.5 421.4 669.3 426 668.6C430.7 667.9 436.8 670.4 438.9 670.7" stroke="#8f4023" stroke-width="12.3" stroke-linecap="butt"/>
<path d="M402.4 690.1C403.8 687.6 407 678.6 411 675C414.9 671.5 421.4 669.3 426 668.6C430.7 667.9 436.8 670.4 438.9 670.7" stroke="#ea8054" stroke-width="10.3" stroke-linecap="butt"/>
<path d="M402.4 690.1C403.8 687.6 407 678.6 411 675C414.9 671.5 421.4 669.3 426 668.6C430.7 667.9 436.8 670.4 438.9 670.7" stroke="#ffb696" stroke-width="3.2" stroke-linecap="round" stroke-opacity="0.6"/>
<path d="M350.8 754.5C352.6 753.8 358 748.1 361.6 750.2C365.1 752.4 370.5 764.6 372.3 767.4" stroke="#8f4023" stroke-width="11.4" stroke-linecap="butt"/>
<path d="M350.8 754.5C352.6 753.8 358 748.1 361.6 750.2C365.1 752.4 370.5 764.6 372.3 767.4" stroke="#ea8054" stroke-width="9.4" stroke-linecap="butt"/>
<path d="M350.8 754.5C352.6 753.8 358 748.1 361.6 750.2C365.1 752.4 370.5 764.6 372.3 767.4" stroke="#ffb696" stroke-width="2.9" stroke-linecap="round" stroke-opacity="0.6"/>
<path d="M353 761C354.8 763.5 361.2 770.3 363.7 776C366.2 781.7 367.3 792.1 368 795.4" stroke="#8f4023" stroke-width="5.8" stroke-linecap="round"/>
<path d="M353 761C354.8 763.5 361.2 770.3 363.7 776C366.2 781.7 367.3 792.1 368 795.4" stroke="#ea8054" stroke-width="4.3" stroke-linecap="round"/>
<path d="M353 761C354.8 763.5 361.2 770.3 363.7 776C366.2 781.7 367.3 792.1 368 795.4" stroke="#ffb696" stroke-width="1.3" stroke-linecap="round" stroke-opacity="0.6"/>
<path d="M314.3 784.6C317.2 783.2 325 779.2 331.5 776C337.9 772.8 349.4 767.1 353 765.3" stroke="#8f4023" stroke-width="5.8" stroke-linecap="round"/>
<path d="M314.3 784.6C317.2 783.2 325 779.2 331.5 776C337.9 772.8 349.4 767.1 353 765.3" stroke="#ea8054" stroke-width="4.3" stroke-linecap="round"/>
<path d="M314.3 784.6C317.2 783.2 325 779.2 331.5 776C337.9 772.8 349.4 767.1 353 765.3" stroke="#ffb696" stroke-width="1.3" stroke-linecap="round" stroke-opacity="0.6"/>
<path d="M411 709.4C411.7 715.5 414.9 735.6 415.3 745.9C415.6 756.3 412.1 768.1 413.1 771.7C414.2 775.3 419.6 772.4 421.7 767.4C423.9 762.4 424.2 750.6 426 741.6C427.8 732.7 431.4 718.4 432.5 713.7" stroke="#8f4023" stroke-width="5.8" stroke-linecap="round"/>
<path d="M411 709.4C411.7 715.5 414.9 735.6 415.3 745.9C415.6 756.3 412.1 768.1 413.1 771.7C414.2 775.3 419.6 772.4 421.7 767.4C423.9 762.4 424.2 750.6 426 741.6C427.8 732.7 431.4 718.4 432.5 713.7" stroke="#ea8054" stroke-width="4.3" stroke-linecap="round"/>
<path d="M411 709.4C411.7 715.5 414.9 735.6 415.3 745.9C415.6 756.3 412.1 768.1 413.1 771.7C414.2 775.3 419.6 772.4 421.7 767.4C423.9 762.4 424.2 750.6 426 741.6C427.8 732.7 431.4 718.4 432.5 713.7" stroke="#ffb696" stroke-width="1.3" stroke-linecap="round" stroke-opacity="0.6"/>
<path d="M432.5 713.7C435 712.6 441.8 706.9 447.5 707.3C453.2 707.6 461.8 711.6 466.8 715.9C471.9 720.2 476.1 727.3 477.6 733C479 738.8 477.6 747 475.4 750.2C473.3 753.5 467.6 753.8 464.7 752.4C461.8 751 459 745.6 458.2 741.6C457.5 737.7 460 730.9 460.4 728.8" stroke="#8f4023" stroke-width="13.3" stroke-linecap="round"/>
<path d="M432.5 713.7C435 712.6 441.8 706.9 447.5 707.3C453.2 707.6 461.8 711.6 466.8 715.9C471.9 720.2 476.1 727.3 477.6 733C479 738.8 477.6 747 475.4 750.2C473.3 753.5 467.6 753.8 464.7 752.4C461.8 751 459 745.6 458.2 741.6C457.5 737.7 460 730.9 460.4 728.8" stroke="#ea8054" stroke-width="11.3" stroke-linecap="round"/>
<path d="M432.5 713.7C435 712.6 441.8 706.9 447.5 707.3C453.2 707.6 461.8 711.6 466.8 715.9C471.9 720.2 476.1 727.3 477.6 733C479 738.8 477.6 747 475.4 750.2C473.3 753.5 467.6 753.8 464.7 752.4C461.8 751 459 745.6 458.2 741.6C457.5 737.7 460 730.9 460.4 728.8" stroke="#ffb696" stroke-width="3.5" stroke-linecap="round" stroke-opacity="0.6"/>
<path d="M469 715.9C472.2 715.1 482.2 710.5 488.3 711.6C494.4 712.6 504.1 719.8 505.5 722.3C506.9 724.8 498.3 725.9 496.9 726.6" stroke="#8f4023" stroke-width="11.4" stroke-linecap="butt"/>
<path d="M469 715.9C472.2 715.1 482.2 710.5 488.3 711.6C494.4 712.6 504.1 719.8 505.5 722.3C506.9 724.8 498.3 725.9 496.9 726.6" stroke="#ea8054" stroke-width="9.4" stroke-linecap="butt"/>
<path d="M469 715.9C472.2 715.1 482.2 710.5 488.3 711.6C494.4 712.6 504.1 719.8 505.5 722.3C506.9 724.8 498.3 725.9 496.9 726.6" stroke="#ffb696" stroke-width="2.9" stroke-linecap="round" stroke-opacity="0.6"/>
<path d="M466.8 752.4C471.1 754.2 485.8 760.6 492.6 763.1C499.4 765.6 504.4 770.3 507.7 767.4C510.9 764.6 512.3 752.4 512 745.9C511.6 739.5 506.6 731.6 505.5 728.8" stroke="#8f4023" stroke-width="5.8" stroke-linecap="round"/>
<path d="M466.8 752.4C471.1 754.2 485.8 760.6 492.6 763.1C499.4 765.6 504.4 770.3 507.7 767.4C510.9 764.6 512.3 752.4 512 745.9C511.6 739.5 506.6 731.6 505.5 728.8" stroke="#ea8054" stroke-width="4.3" stroke-linecap="round"/>
<path d="M466.8 752.4C471.1 754.2 485.8 760.6 492.6 763.1C499.4 765.6 504.4 770.3 507.7 767.4C510.9 764.6 512.3 752.4 512 745.9C511.6 739.5 506.6 731.6 505.5 728.8" stroke="#ffb696" stroke-width="1.3" stroke-linecap="round" stroke-opacity="0.6"/>
<path d="M512 743.8C514.1 744.1 521.6 743.4 524.8 745.9C528.1 748.4 531.3 752.7 531.3 758.8C531.3 764.9 527.4 783.2 524.8 782.5C522.3 781.7 518.8 761 516.3 754.5C513.7 748.1 510.9 745.6 509.8 743.8" stroke="#8f4023" stroke-width="5.8" stroke-linecap="round"/>
<path d="M512 743.8C514.1 744.1 521.6 743.4 524.8 745.9C528.1 748.4 531.3 752.7 531.3 758.8C531.3 764.9 527.4 783.2 524.8 782.5C522.3 781.7 518.8 761 516.3 754.5C513.7 748.1 510.9 745.6 509.8 743.8" stroke="#ea8054" stroke-width="4.3" stroke-linecap="round"/>
<path d="M512 743.8C514.1 744.1 521.6 743.4 524.8 745.9C528.1 748.4 531.3 752.7 531.3 758.8C531.3 764.9 527.4 783.2 524.8 782.5C522.3 781.7 518.8 761 516.3 754.5C513.7 748.1 510.9 745.6 509.8 743.8" stroke="#ffb696" stroke-width="1.3" stroke-linecap="round" stroke-opacity="0.6"/>
<path d="M300.8 681.5C300.1 686.9 296.8 701.2 296.5 713.7C296.1 726.2 297.9 744.9 298.6 756.7C299.4 768.5 297.6 779.6 300.8 784.6C304 789.6 313.1 787.5 318 786.8C322.8 786 328 781.4 330 780.3" stroke="#8f4023" stroke-width="5.8" stroke-linecap="round"/>
<path d="M300.8 681.5C300.1 686.9 296.8 701.2 296.5 713.7C296.1 726.2 297.9 744.9 298.6 756.7C299.4 768.5 297.6 779.6 300.8 784.6C304 789.6 313.1 787.5 318 786.8C322.8 786 328 781.4 330 780.3" stroke="#ea8054" stroke-width="4.3" stroke-linecap="round"/>
<path d="M300.8 681.5C300.1 686.9 296.8 701.2 296.5 713.7C296.1 726.2 297.9 744.9 298.6 756.7C299.4 768.5 297.6 779.6 300.8 784.6C304 789.6 313.1 787.5 318 786.8C322.8 786 328 781.4 330 780.3" stroke="#ffb696" stroke-width="1.3" stroke-linecap="round" stroke-opacity="0.6"/>
<path d="M330 703C327.3 704.4 315.3 708 313.7 711.6C312 715.1 317.4 720.9 320.1 724.5C322.8 728 328.4 731.6 330 733" stroke="#8f4023" stroke-width="11.9" stroke-linecap="butt"/>
<path d="M330 703C327.3 704.4 315.3 708 313.7 711.6C312 715.1 317.4 720.9 320.1 724.5C322.8 728 328.4 731.6 330 733" stroke="#ea8054" stroke-width="9.9" stroke-linecap="butt"/>
<path d="M330 703C327.3 704.4 315.3 708 313.7 711.6C312 715.1 317.4 720.9 320.1 724.5C322.8 728 328.4 731.6 330 733" stroke="#ffb696" stroke-width="3.1" stroke-linecap="round" stroke-opacity="0.6"/>
<path d="M512 564.5C513.4 568 520.9 578.8 520.5 585.9C520.2 593.1 508 602.1 509.8 607.4C511.6 612.8 527.7 616.4 531.3 618.2" stroke="#8f7300" stroke-width="5.3" stroke-linecap="round"/>
<path d="M512 564.5C513.4 568 520.9 578.8 520.5 585.9C520.2 593.1 508 602.1 509.8 607.4C511.6 612.8 527.7 616.4 531.3 618.2" stroke="#f4ca08" stroke-width="3.8" stroke-linecap="round"/>
<path d="M512 564.5C513.4 568 520.9 578.8 520.5 585.9C520.2 593.1 508 602.1 509.8 607.4C511.6 612.8 527.7 616.4 531.3 618.2" stroke="#ffe968" stroke-width="1.2" stroke-linecap="round" stroke-opacity="0.6"/>
<path d="M428.2 637.5C430 635 433.5 623.9 438.9 622.5C444.3 621 456.8 627.8 460.4 628.9" stroke="#8f7300" stroke-width="5.3" stroke-linecap="round"/>
<path d="M428.2 637.5C430 635 433.5 623.9 438.9 622.5C444.3 621 456.8 627.8 460.4 628.9" stroke="#f4ca08" stroke-width="3.8" stroke-linecap="round"/>
<path d="M428.2 637.5C430 635 433.5 623.9 438.9 622.5C444.3 621 456.8 627.8 460.4 628.9" stroke="#ffe968" stroke-width="1.2" stroke-linecap="round" stroke-opacity="0.6"/>
<path d="M421.7 650.4L430.3 667.6" stroke="#8f7300" stroke-width="5.3" stroke-linecap="round"/>
<path d="M421.7 650.4L430.3 667.6" stroke="#f4ca08" stroke-width="3.8" stroke-linecap="round"/>
<path d="M421.7 650.4L430.3 667.6" stroke="#ffe968" stroke-width="1.2" stroke-linecap="round" stroke-opacity="0.6"/>
<path d="M430.3 682.6C430.7 683.3 425.7 688 432.5 686.9C439.3 685.8 459.3 680.5 471.1 676.2C483 671.9 492.6 664.4 503.4 661.1C514.1 657.9 528.4 657.9 535.6 656.8C542.7 655.8 544.5 655 546.3 654.7" stroke="#8f7300" stroke-width="5.3" stroke-linecap="round"/>
<path d="M430.3 682.6C430.7 683.3 425.7 688 432.5 686.9C439.3 685.8 459.3 680.5 471.1 676.2C483 671.9 492.6 664.4 503.4 661.1C514.1 657.9 528.4 657.9 535.6 656.8C542.7 655.8 544.5 655 546.3 654.7" stroke="#f4ca08" stroke-width="3.8" stroke-linecap="round"/>
<path d="M430.3 682.6C430.7 683.3 425.7 688 432.5 686.9C439.3 685.8 459.3 680.5 471.1 676.2C483 671.9 492.6 664.4 503.4 661.1C514.1 657.9 528.4 657.9 535.6 656.8C542.7 655.8 544.5 655 546.3 654.7" stroke="#ffe968" stroke-width="1.2" stroke-linecap="round" stroke-opacity="0.6"/>
<path d="M569.9 586.8C569.7 583.6 569.7 576.4 568.7 567.7C567.7 558.9 565.1 544.1 564 534.1C562.8 524.2 561.6 516.8 561.6 507.8C561.6 498.8 563.6 484.8 564 480.2" stroke="#8f7300" stroke-width="15.4" stroke-linecap="butt"/>
<path d="M569.9 586.8C569.7 583.6 569.7 576.4 568.7 567.7C567.7 558.9 565.1 544.1 564 534.1C562.8 524.2 561.6 516.8 561.6 507.8C561.6 498.8 563.6 484.8 564 480.2" stroke="#f4ca08" stroke-width="13.4" stroke-linecap="butt"/>
<path d="M569.9 586.8C569.7 583.6 569.7 576.4 568.7 567.7C567.7 558.9 565.1 544.1 564 534.1C562.8 524.2 561.6 516.8 561.6 507.8C561.6 498.8 563.6 484.8 564 480.2" stroke="#ffe968" stroke-width="4.1" stroke-linecap="round" stroke-opacity="0.6"/>
<path d="M577 480.2L564 459.4L551 480.2Z" fill="#f4ca08" stroke="#8f7300" stroke-width="1.2" stroke-linejoin="round"/>
<path d="M564 480.2L564 468.8" stroke="#ffe968" stroke-width="4.2" stroke-linecap="round" stroke-opacity="0.7"/>
<path d="M530.4 471.9C532 471.1 536 469.5 540 467.1C544 464.7 549.2 459.7 554.4 457.5C559.6 455.3 565.5 454.5 571.1 453.9C576.7 453.3 581.9 455.3 587.9 453.9C593.9 452.5 601.3 448.1 607.1 445.5C612.9 442.9 620.2 440.5 622.6 438.3C625 436.1 624 433.7 621.4 432.3C618.8 430.9 612.7 429.7 607.1 429.9C601.5 430.1 592.7 431.7 587.9 433.5C583.1 435.3 580.7 437.7 578.3 440.7C575.9 443.7 574.3 449.7 573.5 451.5" stroke="#8f7300" stroke-width="6.3" stroke-linecap="round"/>
<path d="M530.4 471.9C532 471.1 536 469.5 540 467.1C544 464.7 549.2 459.7 554.4 457.5C559.6 455.3 565.5 454.5 571.1 453.9C576.7 453.3 581.9 455.3 587.9 453.9C593.9 452.5 601.3 448.1 607.1 445.5C612.9 442.9 620.2 440.5 622.6 438.3C625 436.1 624 433.7 621.4 432.3C618.8 430.9 612.7 429.7 607.1 429.9C601.5 430.1 592.7 431.7 587.9 433.5C583.1 435.3 580.7 437.7 578.3 440.7C575.9 443.7 574.3 449.7 573.5 451.5" stroke="#f4ca08" stroke-width="4.8" stroke-linecap="round"/>
<path d="M530.4 471.9C532 471.1 536 469.5 540 467.1C544 464.7 549.2 459.7 554.4 457.5C559.6 455.3 565.5 454.5 571.1 453.9C576.7 453.3 581.9 455.3 587.9 453.9C593.9 452.5 601.3 448.1 607.1 445.5C612.9 442.9 620.2 440.5 622.6 438.3C625 436.1 624 433.7 621.4 432.3C618.8 430.9 612.7 429.7 607.1 429.9C601.5 430.1 592.7 431.7 587.9 433.5C583.1 435.3 580.7 437.7 578.3 440.7C575.9 443.7 574.3 449.7 573.5 451.5" stroke="#ffe968" stroke-width="1.5" stroke-linecap="round" stroke-opacity="0.6"/>
<path d="M539.9 468.2L509.8 483.3" stroke="#8f7300" stroke-width="18.9" stroke-linecap="butt"/>
<path d="M539.9 468.2L509.8 483.3" stroke="#f4ca08" stroke-width="16.9" stroke-linecap="butt"/>
<path d="M539.9 468.2L509.8 483.3" stroke="#ffe968" stroke-width="5.2" stroke-linecap="round" stroke-opacity="0.6"/>
<path d="M551.9 511.3L551.6 513L550.4 514.7L548.2 516.6L545.3 518.6L541.8 520.7L537.8 522.9L533.6 525.1L529.4 527.2L525.5 529.4L521.9 531.5L519 533.5L516.9 535.4L515.6 537.2L515.4 538.8L512.8 521.4L513.1 519.7L514.4 518L516.5 516.1L519.4 514.1L523 512L526.9 509.8L531.1 507.6L535.3 505.4L539.3 503.3L542.8 501.2L545.7 499.2L547.9 497.3L549.1 495.5L549.4 493.9Z" fill="#d6b006" stroke="#8f7300" stroke-width="1.4"/>
<path d="M547 507.9L544.1 509.9L540.5 512L536.6 514.2L532.4 516.3L528.2 518.5L524.2 520.7L520.7 522.8L517.8 524.8" stroke="#ffe968" stroke-width="5.3" stroke-linecap="round" stroke-opacity="0.45"/>
<path d="M561 560.2L560.8 561.7L559.6 563.4L557.4 565.3L554.5 567.4L550.9 569.5L546.9 571.8L542.7 574.1L538.5 576.5L534.5 578.8L530.9 580.9L528 583L525.9 584.9L524.7 586.6L524.5 588.1L520.9 570.9L521.2 569.4L522.4 567.7L524.5 565.8L527.4 563.7L531 561.5L535 559.2L539.2 556.9L543.4 554.6L547.4 552.3L551 550.1L553.9 548.1L556 546.2L557.2 544.4L557.5 542.9Z" fill="#d6b006" stroke="#8f7300" stroke-width="1.4"/>
<path d="M555.7 556.7L552.7 558.7L549.2 560.9L545.2 563.2L541 565.5L536.7 567.9L532.7 570.1L529.2 572.3L526.3 574.4" stroke="#ffe968" stroke-width="5.3" stroke-linecap="round" stroke-opacity="0.45"/>
<path d="M573.2 604.9L573.1 605.9L572 607.4L570 609.2L567.2 611.3L563.8 613.7L560 616.2L556 618.8L552 621.4L548.2 624L544.8 626.3L542.1 628.4L540.1 630.3L539 631.7L538.8 632.8L532.4 616.4L532.5 615.3L533.6 613.9L535.6 612.1L538.3 610L541.7 607.6L545.5 605.1L549.5 602.5L553.6 599.8L557.4 597.3L560.7 595L563.5 592.8L565.5 591L566.6 589.6L566.7 588.5Z" fill="#d6b006" stroke="#8f7300" stroke-width="1.4"/>
<path d="M566.7 601L564 603.1L560.6 605.5L556.8 608L552.8 610.6L548.8 613.3L545 615.8L541.6 618.1L538.8 620.3" stroke="#ffe968" stroke-width="5.3" stroke-linecap="round" stroke-opacity="0.45"/>
<path d="M595.1 652.6L594.6 654.1L592.9 655.8L590 657.7L586.1 659.7L581.3 661.9L576 664.2L570.4 666.6L564.7 668.9L559.4 671.2L554.7 673.4L550.7 675.5L547.8 677.4L546.1 679.1L545.7 680.6L542.7 663.2L543.1 661.7L544.8 660.1L547.8 658.2L551.7 656.1L556.4 653.9L561.8 651.6L567.4 649.2L573 646.9L578.4 644.6L583.1 642.4L587.1 640.3L590 638.4L591.7 636.7L592.1 635.3Z" fill="#d6b006" stroke="#8f7300" stroke-width="1.4"/>
<path d="M588.5 649L584.6 651.1L579.8 653.3L574.5 655.6L568.9 657.9L563.3 660.3L557.9 662.6L553.2 664.8L549.2 666.8" stroke="#ffe968" stroke-width="5.3" stroke-linecap="round" stroke-opacity="0.45"/>
<path d="M604.8 692.2L604.3 692.3L603.1 692.9L601.2 694L598.6 695.4L595.6 697.2L592.2 699.2L588.7 701.3L585.2 703.4L581.8 705.3L578.8 707.1L576.2 708.6L574.3 709.6L573.1 710.2L572.6 710.4L563 695.6L563.5 695.4L564.8 694.8L566.7 693.8L569.2 692.3L572.3 690.6L575.6 688.6L579.2 686.5L582.7 684.4L586.1 682.4L589.1 680.6L591.6 679.2L593.6 678.1L594.8 677.5L595.3 677.4Z" fill="#d6b006" stroke="#8f7300" stroke-width="1.4"/>
<path d="M596.4 686.6L593.9 688L590.8 689.8L587.5 691.8L583.9 693.9L580.4 696L577 698L574 699.7L571.5 701.2" stroke="#ffe968" stroke-width="5.3" stroke-linecap="round" stroke-opacity="0.45"/>
<path d="M619.3 721.5L619.3 722.4L618.5 723.8L617.1 725.6L615 727.8L612.4 730.2L609.5 732.7L606.4 735.4L603.3 738.1L600.3 740.7L597.8 743.1L595.7 745.2L594.2 747L593.5 748.4L593.5 749.4L585.1 733.9L585.1 732.9L585.8 731.5L587.3 729.7L589.4 727.6L592 725.2L594.9 722.6L598 719.9L601.1 717.3L604 714.7L606.6 712.3L608.7 710.2L610.2 708.4L610.9 707L610.9 706Z" fill="#d6b006" stroke="#8f7300" stroke-width="1.4"/>
<path d="M612.9 717.9L610.8 720L608.2 722.4L605.3 725L602.2 727.7L599.1 730.4L596.2 732.9L593.6 735.3L591.5 737.5" stroke="#ffe968" stroke-width="5.3" stroke-linecap="round" stroke-opacity="0.45"/>
<path d="M511.1 498.4L511.7 499.7L513.3 500.8L515.8 501.8L519 502.7L522.8 503.4L527 504.2L531.5 504.9L535.9 505.6L540.1 506.3L543.9 507.1L547.2 508L549.6 509L551.2 510.1L551.9 511.3L549.4 493.9L548.7 492.7L547.1 491.6L544.6 490.6L541.4 489.7L537.6 488.9L533.4 488.2L529 487.5L524.5 486.8L520.3 486L516.5 485.2L513.3 484.4L510.8 483.4L509.2 482.3L508.5 481Z" fill="#f4ca08" stroke="#8f7300" stroke-width="1.4"/>
<path d="M514.5 493.1L517.8 493.9L521.6 494.7L525.8 495.5L530.2 496.2L534.7 496.9L538.9 497.6L542.7 498.4L545.9 499.3" stroke="#ffe968" stroke-width="5.3" stroke-linecap="round" stroke-opacity="0.7"/>
<path d="M515.6 538.7L516.5 540.7L518.3 542.5L521.1 544.1L524.6 545.6L528.8 546.9L533.4 548.2L538.2 549.5L543 550.7L547.6 552L551.8 553.4L555.3 554.9L558 556.5L559.9 558.3L560.7 560.2L557.7 542.9L556.8 540.9L555 539.2L552.3 537.6L548.7 536.1L544.6 534.7L540 533.4L535.1 532.2L530.3 530.9L525.7 529.6L521.6 528.2L518 526.8L515.3 525.1L513.4 523.4L512.6 521.4Z" fill="#f4ca08" stroke="#8f7300" stroke-width="1.4"/>
<path d="M519.5 535.4L523.1 536.9L527.2 538.3L531.8 539.6L536.7 540.8L541.5 542.1L546.1 543.4L550.2 544.7L553.8 546.2" stroke="#ffe968" stroke-width="5.3" stroke-linecap="round" stroke-opacity="0.7"/>
<path d="M524.9 588L525.9 589.9L527.9 591.4L530.8 592.8L534.5 593.9L538.8 594.9L543.6 595.8L548.6 596.6L553.5 597.4L558.3 598.3L562.6 599.3L566.3 600.4L569.2 601.8L571.2 603.3L572.2 605.2L567.7 588.2L566.7 586.3L564.7 584.7L561.8 583.4L558.1 582.2L553.8 581.3L549.1 580.4L544.1 579.6L539.1 578.8L534.4 577.9L530.1 576.9L526.4 575.8L523.5 574.4L521.5 572.8L520.5 571Z" fill="#f4ca08" stroke="#8f7300" stroke-width="1.4"/>
<path d="M528.6 584.3L532.3 585.4L536.6 586.4L541.4 587.3L546.3 588.1L551.3 588.9L556 589.8L560.4 590.7L564 591.9" stroke="#ffe968" stroke-width="5.3" stroke-linecap="round" stroke-opacity="0.7"/>
<path d="M538.4 632.9L539.9 635.2L542.4 637.2L546 638.7L550.5 640L555.7 641L561.5 641.9L567.4 642.6L573.4 643.4L579.1 644.2L584.4 645.2L588.9 646.5L592.4 648L595 650L596.4 652.3L590.8 635.6L589.3 633.3L586.8 631.4L583.2 629.8L578.7 628.6L573.5 627.5L567.7 626.7L561.8 625.9L555.8 625.2L550.1 624.4L544.8 623.3L540.3 622.1L536.7 620.5L534.2 618.6L532.7 616.3Z" fill="#f4ca08" stroke="#8f7300" stroke-width="1.4"/>
<path d="M543.2 630.4L547.7 631.7L552.9 632.7L558.6 633.5L564.6 634.3L570.6 635L576.3 635.9L581.5 636.9L586 638.2" stroke="#ffe968" stroke-width="5.3" stroke-linecap="round" stroke-opacity="0.7"/>
<path d="M547.6 680L549 682L551.5 683.5L555 684.6L559.4 685.4L564.3 685.9L569.8 686.2L575.5 686.4L581.2 686.6L586.7 687L591.7 687.5L596 688.2L599.5 689.4L602 690.9L603.4 692.9L596.6 676.6L595.2 674.7L592.7 673.1L589.2 672L584.9 671.2L579.9 670.7L574.4 670.4L568.7 670.2L563 670L557.6 669.7L552.6 669.2L548.2 668.4L544.8 667.3L542.2 665.7L540.8 663.8Z" fill="#f4ca08" stroke="#8f7300" stroke-width="1.4"/>
<path d="M551.6 676.5L556 677.3L560.9 677.8L566.4 678.1L572.1 678.3L577.8 678.5L583.3 678.8L588.3 679.3L592.6 680.1" stroke="#ffe968" stroke-width="5.3" stroke-linecap="round" stroke-opacity="0.7"/>
<path d="M572 710.7L573.5 712.5L575.8 713.9L578.7 714.8L582.4 715.5L586.5 715.8L591 716L595.6 716.1L600.3 716.2L604.8 716.3L608.9 716.7L612.5 717.3L615.5 718.3L617.8 719.7L619.3 721.5L610.9 706L609.4 704.2L607.1 702.8L604.1 701.8L600.5 701.2L596.4 700.8L591.9 700.7L587.3 700.6L582.6 700.5L578.1 700.3L574 700L570.4 699.4L567.4 698.4L565.1 697L563.6 695.2Z" fill="#f4ca08" stroke="#8f7300" stroke-width="1.4"/>
<path d="M574.6 707.1L578.2 707.7L582.3 708.1L586.8 708.3L591.4 708.3L596.1 708.4L600.6 708.6L604.7 709L608.3 709.6" stroke="#ffe968" stroke-width="5.3" stroke-linecap="round" stroke-opacity="0.7"/>
<path d="M567.8 670.7C571.4 672.5 582.1 677.5 589.3 681.5C596.5 685.4 606.5 690.8 610.8 694.4C615.1 698 614.4 701.5 615.1 703" stroke="#8f7300" stroke-width="5.3" stroke-linecap="round"/>
<path d="M567.8 670.7C571.4 672.5 582.1 677.5 589.3 681.5C596.5 685.4 606.5 690.8 610.8 694.4C615.1 698 614.4 701.5 615.1 703" stroke="#f4ca08" stroke-width="3.8" stroke-linecap="round"/>
<path d="M567.8 670.7C571.4 672.5 582.1 677.5 589.3 681.5C596.5 685.4 606.5 690.8 610.8 694.4C615.1 698 614.4 701.5 615.1 703" stroke="#ffe968" stroke-width="1.2" stroke-linecap="round" stroke-opacity="0.6"/>
<path d="M615.1 722.3L623.7 724.5" stroke="#8f7300" stroke-width="5.3" stroke-linecap="round"/>
<path d="M615.1 722.3L623.7 724.5" stroke="#f4ca08" stroke-width="3.8" stroke-linecap="round"/>
<path d="M615.1 722.3L623.7 724.5" stroke="#ffe968" stroke-width="1.2" stroke-linecap="round" stroke-opacity="0.6"/>
<path d="M589.3 724.5C587.5 724.8 579.6 724.5 578.6 726.6C577.5 728.8 582.1 735.6 582.9 737.3" stroke="#8f7300" stroke-width="5.3" stroke-linecap="round"/>
<path d="M589.3 724.5C587.5 724.8 579.6 724.5 578.6 726.6C577.5 728.8 582.1 735.6 582.9 737.3" stroke="#f4ca08" stroke-width="3.8" stroke-linecap="round"/>
<path d="M589.3 724.5C587.5 724.8 579.6 724.5 578.6 726.6C577.5 728.8 582.1 735.6 582.9 737.3" stroke="#ffe968" stroke-width="1.2" stroke-linecap="round" stroke-opacity="0.6"/>
<path d="M591.4 745.9C592.5 748.8 593.6 758.8 597.9 763.1C602.2 767.4 613.6 770.6 617.2 771.7C620.8 772.8 621.2 772.4 619.4 769.6C617.6 766.7 610.4 757.8 606.5 754.5C602.5 751.3 597.5 751 595.7 750.2" stroke="#8f7300" stroke-width="5.3" stroke-linecap="round"/>
<path d="M591.4 745.9C592.5 748.8 593.6 758.8 597.9 763.1C602.2 767.4 613.6 770.6 617.2 771.7C620.8 772.8 621.2 772.4 619.4 769.6C617.6 766.7 610.4 757.8 606.5 754.5C602.5 751.3 597.5 751 595.7 750.2" stroke="#f4ca08" stroke-width="3.8" stroke-linecap="round"/>
<path d="M591.4 745.9C592.5 748.8 593.6 758.8 597.9 763.1C602.2 767.4 613.6 770.6 617.2 771.7C620.8 772.8 621.2 772.4 619.4 769.6C617.6 766.7 610.4 757.8 606.5 754.5C602.5 751.3 597.5 751 595.7 750.2" stroke="#ffe968" stroke-width="1.2" stroke-linecap="round" stroke-opacity="0.6"/>
</g>
</svg>
</body></html>
